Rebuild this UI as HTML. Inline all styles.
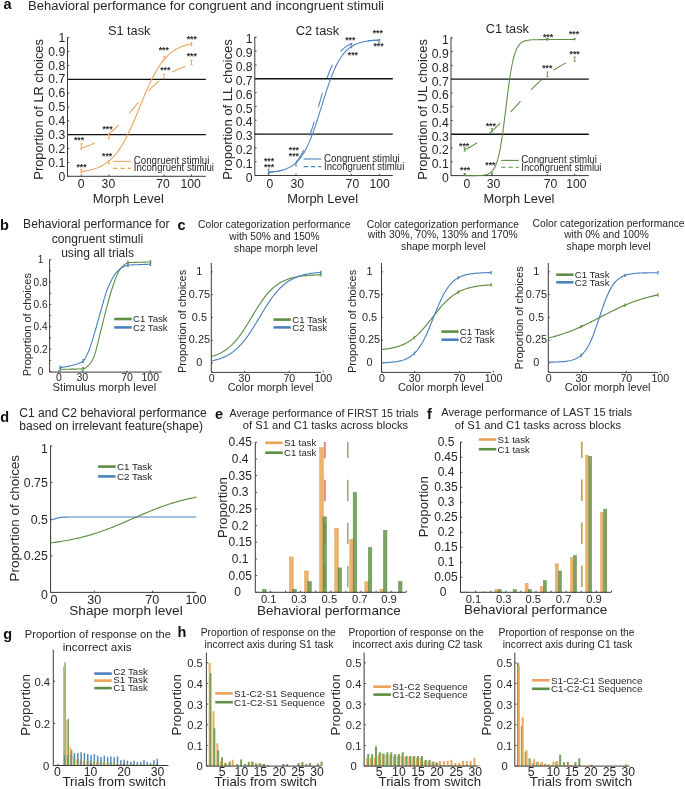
<!DOCTYPE html>
<html><head><meta charset="utf-8"><style>
html,body{margin:0;padding:0;background:#fff;}
svg{display:block;font-family:"Liberation Sans", sans-serif;will-change:transform;}
</style></head><body>
<svg width="685" height="789" viewBox="0 0 685 789" font-family='"Liberation Sans", sans-serif' fill="#262626">
<rect x="0" y="0" width="685" height="789" fill="#fff"/>
<text x="3.40" y="9.00" font-size="14.5" font-weight="bold" fill="#111">a</text>
<text x="28.00" y="9.60" font-size="12.5" textLength="356.0" lengthAdjust="spacingAndGlyphs">Behavioral performance for congruent and incongruent stimuli</text>
<text x="107.90" y="35.00" font-size="12.5" textLength="42.5" lengthAdjust="spacingAndGlyphs">S1 task</text>
<line x1="67.50" y1="79.28" x2="205.80" y2="79.28" stroke="#111" stroke-width="1.3"/>
<line x1="67.50" y1="134.72" x2="205.80" y2="134.72" stroke="#111" stroke-width="1.3"/>
<line x1="67.50" y1="37.20" x2="67.50" y2="176.30" stroke="#3a3a3a" stroke-width="1"/>
<line x1="67.50" y1="176.30" x2="205.80" y2="176.30" stroke="#3a3a3a" stroke-width="1"/>
<line x1="67.50" y1="176.30" x2="69.30" y2="176.30" stroke="#3a3a3a" stroke-width="0.9"/>
<text x="65.30" y="180.50" font-size="12.2" text-anchor="end">0</text>
<line x1="67.50" y1="162.44" x2="69.30" y2="162.44" stroke="#3a3a3a" stroke-width="0.9"/>
<text x="65.30" y="166.64" font-size="12.2" text-anchor="end">0.1</text>
<line x1="67.50" y1="148.58" x2="69.30" y2="148.58" stroke="#3a3a3a" stroke-width="0.9"/>
<text x="65.30" y="152.78" font-size="12.2" text-anchor="end">0.2</text>
<line x1="67.50" y1="134.72" x2="69.30" y2="134.72" stroke="#3a3a3a" stroke-width="0.9"/>
<text x="65.30" y="138.92" font-size="12.2" text-anchor="end">0.3</text>
<line x1="67.50" y1="120.86" x2="69.30" y2="120.86" stroke="#3a3a3a" stroke-width="0.9"/>
<text x="65.30" y="125.06" font-size="12.2" text-anchor="end">0.4</text>
<line x1="67.50" y1="107.00" x2="69.30" y2="107.00" stroke="#3a3a3a" stroke-width="0.9"/>
<text x="65.30" y="111.20" font-size="12.2" text-anchor="end">0.5</text>
<line x1="67.50" y1="93.14" x2="69.30" y2="93.14" stroke="#3a3a3a" stroke-width="0.9"/>
<text x="65.30" y="97.34" font-size="12.2" text-anchor="end">0.6</text>
<line x1="67.50" y1="79.28" x2="69.30" y2="79.28" stroke="#3a3a3a" stroke-width="0.9"/>
<text x="65.30" y="83.48" font-size="12.2" text-anchor="end">0.7</text>
<line x1="67.50" y1="65.42" x2="69.30" y2="65.42" stroke="#3a3a3a" stroke-width="0.9"/>
<text x="65.30" y="69.62" font-size="12.2" text-anchor="end">0.8</text>
<line x1="67.50" y1="51.56" x2="69.30" y2="51.56" stroke="#3a3a3a" stroke-width="0.9"/>
<text x="65.30" y="55.76" font-size="12.2" text-anchor="end">0.9</text>
<line x1="67.50" y1="37.70" x2="69.30" y2="37.70" stroke="#3a3a3a" stroke-width="0.9"/>
<text x="65.30" y="41.90" font-size="12.2" text-anchor="end">1</text>
<line x1="81.30" y1="176.30" x2="81.30" y2="174.50" stroke="#3a3a3a" stroke-width="0.9"/>
<line x1="108.90" y1="176.30" x2="108.90" y2="174.50" stroke="#3a3a3a" stroke-width="0.9"/>
<line x1="164.10" y1="176.30" x2="164.10" y2="174.50" stroke="#3a3a3a" stroke-width="0.9"/>
<line x1="191.50" y1="176.30" x2="191.50" y2="174.50" stroke="#3a3a3a" stroke-width="0.9"/>
<text x="81.20" y="188.20" font-size="12.2" text-anchor="middle">0</text>
<text x="108.40" y="188.20" font-size="12.2" text-anchor="middle">30</text>
<text x="163.00" y="188.20" font-size="12.2" text-anchor="middle">70</text>
<text x="190.60" y="188.20" font-size="12.2" text-anchor="middle">100</text>
<text x="128.30" y="202.90" font-size="12.8" text-anchor="middle" textLength="70.9" lengthAdjust="spacingAndGlyphs">Morph Level</text>
<text x="43.10" y="109.40" font-size="12.8" text-anchor="middle" textLength="140.5" lengthAdjust="spacingAndGlyphs" transform="rotate(-90 43.10 109.40)">Proportion of LR choices</text>
<polyline points="81.30,171.55 82.68,171.37 84.05,171.17 85.43,170.95 86.81,170.71 88.19,170.44 89.56,170.15 90.94,169.82 92.32,169.46 93.70,169.06 95.08,168.63 96.45,168.15 97.83,167.62 99.21,167.04 100.58,166.41 101.96,165.71 103.34,164.95 104.72,164.12 106.09,163.21 107.47,162.21 108.85,161.13 110.23,159.96 111.60,158.68 112.98,157.30 114.36,155.81 115.74,154.20 117.12,152.46 118.49,150.61 119.87,148.62 121.25,146.50 122.62,144.25 124.00,141.86 125.38,139.35 126.76,136.70 128.13,133.93 129.51,131.04 130.89,128.05 132.27,124.95 133.65,121.77 135.02,118.52 136.40,115.21 137.78,111.86 139.16,108.48 140.53,105.09 141.91,101.72 143.29,98.37 144.66,95.07 146.04,91.83 147.42,88.67 148.80,85.59 150.18,82.62 151.55,79.76 152.93,77.01 154.31,74.39 155.69,71.90 157.06,69.55 158.44,67.32 159.82,65.23 161.19,63.27 162.57,61.44 163.95,59.73 165.33,58.15 166.70,56.68 168.08,55.32 169.46,54.07 170.84,52.91 172.21,51.85 173.59,50.87 174.97,49.98 176.35,49.16 177.72,48.41 179.10,47.73 180.48,47.11 181.86,46.54 183.24,46.03 184.61,45.56 185.99,45.13 187.37,44.74 188.75,44.39 190.12,44.07 191.50,43.78" fill="none" stroke="#EBA15A" stroke-width="1.05" stroke-linejoin="round"/>
<polyline points="81.30,147.93 82.68,147.54 84.05,147.13 85.43,146.69 86.81,146.23 88.19,145.74 89.56,145.21 90.94,144.66 92.32,144.07 93.70,143.45 95.08,142.79 96.45,142.10 97.83,141.37 99.21,140.60 100.58,139.78 101.96,138.93 103.34,138.03 104.72,137.09 106.09,136.11 107.47,135.08 108.85,134.00 110.23,132.88 111.60,131.72 112.98,130.51 114.36,129.25 115.74,127.96 117.12,126.62 118.49,125.24 119.87,123.82 121.25,122.36 122.62,120.87 124.00,119.34 125.38,117.79 126.76,116.21 128.13,114.61 129.51,112.99 130.89,111.35 132.27,109.71 133.65,108.05 135.02,106.39 136.40,104.74 137.78,103.09 139.16,101.45 140.53,99.82 141.91,98.21 143.29,96.62 144.66,95.06 146.04,93.53 147.42,92.02 148.80,90.55 150.18,89.11 151.55,87.72 152.93,86.36 154.31,85.05 155.69,83.78 157.06,82.55 158.44,81.37 159.82,80.23 161.19,79.14 162.57,78.09 163.95,77.09 165.33,76.13 166.70,75.22 168.08,74.35 169.46,73.52 170.84,72.73 172.21,71.99 173.59,71.28 174.97,70.61 176.35,69.97 177.72,69.37 179.10,68.80 180.48,68.27 181.86,67.76 183.24,67.29 184.61,66.84 185.99,66.42 187.37,66.03 188.75,65.65 190.12,65.31 191.50,64.98" fill="none" stroke="#EBA15A" stroke-width="1.05" stroke-linejoin="round" stroke-dasharray="14.5 15.5" stroke-dashoffset="0"/>
<line x1="81.30" y1="169.51" x2="81.30" y2="172.84" stroke="#EBA15A" stroke-width="0.9"/>
<line x1="80.20" y1="169.51" x2="82.40" y2="169.51" stroke="#EBA15A" stroke-width="0.9"/>
<line x1="80.20" y1="172.84" x2="82.40" y2="172.84" stroke="#EBA15A" stroke-width="0.9"/>
<line x1="108.90" y1="160.36" x2="108.90" y2="163.69" stroke="#EBA15A" stroke-width="0.9"/>
<line x1="107.80" y1="160.36" x2="110.00" y2="160.36" stroke="#EBA15A" stroke-width="0.9"/>
<line x1="107.80" y1="163.69" x2="110.00" y2="163.69" stroke="#EBA15A" stroke-width="0.9"/>
<line x1="164.10" y1="56.41" x2="164.10" y2="59.74" stroke="#EBA15A" stroke-width="0.9"/>
<line x1="163.00" y1="56.41" x2="165.20" y2="56.41" stroke="#EBA15A" stroke-width="0.9"/>
<line x1="163.00" y1="59.74" x2="165.20" y2="59.74" stroke="#EBA15A" stroke-width="0.9"/>
<line x1="191.50" y1="42.83" x2="191.50" y2="45.60" stroke="#EBA15A" stroke-width="0.9"/>
<line x1="190.40" y1="42.83" x2="192.60" y2="42.83" stroke="#EBA15A" stroke-width="0.9"/>
<line x1="190.40" y1="45.60" x2="192.60" y2="45.60" stroke="#EBA15A" stroke-width="0.9"/>
<line x1="81.30" y1="143.73" x2="81.30" y2="149.27" stroke="#EBA15A" stroke-width="0.9"/>
<line x1="80.20" y1="143.73" x2="82.40" y2="143.73" stroke="#EBA15A" stroke-width="0.9"/>
<line x1="80.20" y1="149.27" x2="82.40" y2="149.27" stroke="#EBA15A" stroke-width="0.9"/>
<line x1="108.90" y1="133.75" x2="108.90" y2="138.46" stroke="#EBA15A" stroke-width="0.9"/>
<line x1="107.80" y1="133.75" x2="110.00" y2="133.75" stroke="#EBA15A" stroke-width="0.9"/>
<line x1="107.80" y1="138.46" x2="110.00" y2="138.46" stroke="#EBA15A" stroke-width="0.9"/>
<line x1="164.10" y1="74.43" x2="164.10" y2="78.59" stroke="#EBA15A" stroke-width="0.9"/>
<line x1="163.00" y1="74.43" x2="165.20" y2="74.43" stroke="#EBA15A" stroke-width="0.9"/>
<line x1="163.00" y1="78.59" x2="165.20" y2="78.59" stroke="#EBA15A" stroke-width="0.9"/>
<line x1="191.50" y1="60.57" x2="191.50" y2="64.73" stroke="#EBA15A" stroke-width="0.9"/>
<line x1="190.40" y1="60.57" x2="192.60" y2="60.57" stroke="#EBA15A" stroke-width="0.9"/>
<line x1="190.40" y1="64.73" x2="192.60" y2="64.73" stroke="#EBA15A" stroke-width="0.9"/>
<text x="81.50" y="169.90" font-size="8.7" text-anchor="middle" font-weight="bold" fill="#2a2a2a">***</text>
<text x="79.00" y="142.80" font-size="8.7" text-anchor="middle" font-weight="bold" fill="#2a2a2a">***</text>
<text x="107.20" y="158.90" font-size="8.7" text-anchor="middle" font-weight="bold" fill="#2a2a2a">***</text>
<text x="107.50" y="131.60" font-size="8.7" text-anchor="middle" font-weight="bold" fill="#2a2a2a">***</text>
<text x="163.80" y="53.20" font-size="8.7" text-anchor="middle" font-weight="bold" fill="#2a2a2a">***</text>
<text x="165.30" y="72.60" font-size="8.7" text-anchor="middle" font-weight="bold" fill="#2a2a2a">***</text>
<text x="191.80" y="41.60" font-size="8.7" text-anchor="middle" font-weight="bold" fill="#2a2a2a">***</text>
<text x="191.80" y="59.30" font-size="8.7" text-anchor="middle" font-weight="bold" fill="#2a2a2a">***</text>
<line x1="113.20" y1="161.40" x2="130.90" y2="161.40" stroke="#EBA15A" stroke-width="1.1"/>
<line x1="113.20" y1="168.40" x2="130.90" y2="168.40" stroke="#EBA15A" stroke-width="1.1" stroke-dasharray="4.3 3"/>
<text x="133.80" y="164.00" font-size="10.3" textLength="75.6" lengthAdjust="spacingAndGlyphs">Congruent stimlui</text>
<text x="133.80" y="170.50" font-size="10.3" textLength="80.2" lengthAdjust="spacingAndGlyphs">Incongruent stimlui</text>
<text x="295.70" y="34.60" font-size="12.5" textLength="43.4" lengthAdjust="spacingAndGlyphs">C2 task</text>
<line x1="254.80" y1="78.76" x2="392.80" y2="78.76" stroke="#111" stroke-width="1.3"/>
<line x1="254.80" y1="134.04" x2="392.80" y2="134.04" stroke="#111" stroke-width="1.3"/>
<line x1="254.80" y1="36.80" x2="254.80" y2="175.50" stroke="#3a3a3a" stroke-width="1"/>
<line x1="254.80" y1="175.50" x2="392.80" y2="175.50" stroke="#3a3a3a" stroke-width="1"/>
<line x1="254.80" y1="175.50" x2="256.60" y2="175.50" stroke="#3a3a3a" stroke-width="0.9"/>
<text x="252.60" y="181.65" font-size="12.2" text-anchor="end">0</text>
<line x1="254.80" y1="161.68" x2="256.60" y2="161.68" stroke="#3a3a3a" stroke-width="0.9"/>
<text x="252.60" y="167.83" font-size="12.2" text-anchor="end">0.1</text>
<line x1="254.80" y1="147.86" x2="256.60" y2="147.86" stroke="#3a3a3a" stroke-width="0.9"/>
<text x="252.60" y="154.01" font-size="12.2" text-anchor="end">0.2</text>
<line x1="254.80" y1="134.04" x2="256.60" y2="134.04" stroke="#3a3a3a" stroke-width="0.9"/>
<text x="252.60" y="140.19" font-size="12.2" text-anchor="end">0.3</text>
<line x1="254.80" y1="120.22" x2="256.60" y2="120.22" stroke="#3a3a3a" stroke-width="0.9"/>
<text x="252.60" y="126.37" font-size="12.2" text-anchor="end">0.4</text>
<line x1="254.80" y1="106.40" x2="256.60" y2="106.40" stroke="#3a3a3a" stroke-width="0.9"/>
<text x="252.60" y="112.55" font-size="12.2" text-anchor="end">0.5</text>
<line x1="254.80" y1="92.58" x2="256.60" y2="92.58" stroke="#3a3a3a" stroke-width="0.9"/>
<text x="252.60" y="98.73" font-size="12.2" text-anchor="end">0.6</text>
<line x1="254.80" y1="78.76" x2="256.60" y2="78.76" stroke="#3a3a3a" stroke-width="0.9"/>
<text x="252.60" y="84.91" font-size="12.2" text-anchor="end">0.7</text>
<line x1="254.80" y1="64.94" x2="256.60" y2="64.94" stroke="#3a3a3a" stroke-width="0.9"/>
<text x="252.60" y="71.09" font-size="12.2" text-anchor="end">0.8</text>
<line x1="254.80" y1="51.12" x2="256.60" y2="51.12" stroke="#3a3a3a" stroke-width="0.9"/>
<text x="252.60" y="57.27" font-size="12.2" text-anchor="end">0.9</text>
<line x1="254.80" y1="37.30" x2="256.60" y2="37.30" stroke="#3a3a3a" stroke-width="0.9"/>
<text x="252.60" y="43.45" font-size="12.2" text-anchor="end">1</text>
<line x1="268.60" y1="175.50" x2="268.60" y2="173.70" stroke="#3a3a3a" stroke-width="0.9"/>
<line x1="296.00" y1="175.50" x2="296.00" y2="173.70" stroke="#3a3a3a" stroke-width="0.9"/>
<line x1="351.20" y1="175.50" x2="351.20" y2="173.70" stroke="#3a3a3a" stroke-width="0.9"/>
<line x1="379.20" y1="175.50" x2="379.20" y2="173.70" stroke="#3a3a3a" stroke-width="0.9"/>
<text x="269.80" y="188.20" font-size="12.2" text-anchor="middle">0</text>
<text x="297.20" y="188.20" font-size="12.2" text-anchor="middle">30</text>
<text x="352.40" y="188.20" font-size="12.2" text-anchor="middle">70</text>
<text x="379.60" y="188.20" font-size="12.2" text-anchor="middle">100</text>
<text x="322.70" y="202.90" font-size="12.8" text-anchor="middle" textLength="70.9" lengthAdjust="spacingAndGlyphs">Morph Level</text>
<text x="231.80" y="109.40" font-size="12.8" text-anchor="middle" textLength="140.5" lengthAdjust="spacingAndGlyphs" transform="rotate(-90 231.80 109.40)">Proportion of LL choices</text>
<polyline points="268.60,172.22 269.98,172.11 271.37,171.98 272.75,171.84 274.13,171.67 275.51,171.49 276.90,171.28 278.28,171.03 279.66,170.76 281.04,170.44 282.43,170.09 283.81,169.68 285.19,169.22 286.57,168.69 287.96,168.10 289.34,167.43 290.72,166.67 292.10,165.81 293.49,164.84 294.87,163.75 296.25,162.52 297.63,161.15 299.01,159.62 300.40,157.92 301.78,156.03 303.16,153.94 304.55,151.63 305.93,149.11 307.31,146.37 308.69,143.39 310.07,140.18 311.46,136.74 312.84,133.09 314.22,129.24 315.61,125.20 316.99,121.01 318.37,116.69 319.75,112.28 321.13,107.82 322.52,103.34 323.90,98.89 325.28,94.51 326.67,90.22 328.05,86.08 329.43,82.10 330.81,78.31 332.19,74.73 333.58,71.36 334.96,68.23 336.34,65.33 337.73,62.66 339.11,60.21 340.49,57.98 341.87,55.95 343.25,54.13 344.64,52.48 346.02,51.00 347.40,49.68 348.78,48.50 350.17,47.45 351.55,46.52 352.93,45.69 354.31,44.96 355.70,44.32 357.08,43.75 358.46,43.24 359.85,42.80 361.23,42.41 362.61,42.07 363.99,41.77 365.38,41.50 366.76,41.27 368.14,41.07 369.52,40.89 370.90,40.73 372.29,40.60 373.67,40.48 375.05,40.37 376.44,40.28 377.82,40.20 379.20,40.13" fill="none" stroke="#4A82BE" stroke-width="1.05" stroke-linejoin="round"/>
<polyline points="268.60,172.22 269.98,172.12 271.37,172.00 272.75,171.87 274.13,171.71 275.51,171.53 276.90,171.32 278.28,171.08 279.66,170.80 281.04,170.48 282.43,170.11 283.81,169.68 285.19,169.19 286.57,168.63 287.96,167.98 289.34,167.24 290.72,166.39 292.10,165.42 293.49,164.31 294.87,163.05 296.25,161.63 297.63,160.01 299.01,158.20 300.40,156.16 301.78,153.89 303.16,151.36 304.55,148.57 305.93,145.51 307.31,142.17 308.69,138.55 310.07,134.67 311.46,130.53 312.84,126.17 314.22,121.62 315.61,116.90 316.99,112.08 318.37,107.19 319.75,102.30 321.13,97.45 322.52,92.69 323.90,88.08 325.28,83.65 326.67,79.44 328.05,75.47 329.43,71.76 330.81,68.33 332.19,65.17 333.58,62.29 334.96,59.68 336.34,57.33 337.73,55.21 339.11,53.33 340.49,51.65 341.87,50.16 343.25,48.85 344.64,47.70 346.02,46.68 347.40,45.79 348.78,45.02 350.17,44.34 351.55,43.75 352.93,43.23 354.31,42.79 355.70,42.40 357.08,42.06 358.46,41.77 359.85,41.52 361.23,41.30 362.61,41.11 363.99,40.94 365.38,40.80 366.76,40.68 368.14,40.57 369.52,40.48 370.90,40.40 372.29,40.33 373.67,40.27 375.05,40.22 376.44,40.18 377.82,40.14 379.20,40.11" fill="none" stroke="#4A82BE" stroke-width="1.05" stroke-linejoin="round" stroke-dasharray="14.5 15.5" stroke-dashoffset="0"/>
<line x1="268.60" y1="169.28" x2="268.60" y2="173.43" stroke="#4A82BE" stroke-width="0.9"/>
<line x1="267.50" y1="169.28" x2="269.70" y2="169.28" stroke="#4A82BE" stroke-width="0.9"/>
<line x1="267.50" y1="173.43" x2="269.70" y2="173.43" stroke="#4A82BE" stroke-width="0.9"/>
<line x1="296.00" y1="163.06" x2="296.00" y2="165.83" stroke="#4A82BE" stroke-width="0.9"/>
<line x1="294.90" y1="163.06" x2="297.10" y2="163.06" stroke="#4A82BE" stroke-width="0.9"/>
<line x1="294.90" y1="165.83" x2="297.10" y2="165.83" stroke="#4A82BE" stroke-width="0.9"/>
<line x1="351.20" y1="43.52" x2="351.20" y2="47.67" stroke="#4A82BE" stroke-width="0.9"/>
<line x1="350.10" y1="43.52" x2="352.30" y2="43.52" stroke="#4A82BE" stroke-width="0.9"/>
<line x1="350.10" y1="47.67" x2="352.30" y2="47.67" stroke="#4A82BE" stroke-width="0.9"/>
<line x1="379.20" y1="39.37" x2="379.20" y2="42.14" stroke="#4A82BE" stroke-width="0.9"/>
<line x1="378.10" y1="39.37" x2="380.30" y2="39.37" stroke="#4A82BE" stroke-width="0.9"/>
<line x1="378.10" y1="42.14" x2="380.30" y2="42.14" stroke="#4A82BE" stroke-width="0.9"/>
<text x="269.00" y="164.20" font-size="8.7" text-anchor="middle" font-weight="bold" fill="#2a2a2a">***</text>
<text x="269.00" y="170.40" font-size="8.7" text-anchor="middle" font-weight="bold" fill="#2a2a2a">***</text>
<text x="293.90" y="153.30" font-size="8.7" text-anchor="middle" font-weight="bold" fill="#2a2a2a">***</text>
<text x="293.90" y="159.10" font-size="8.7" text-anchor="middle" font-weight="bold" fill="#2a2a2a">***</text>
<text x="350.30" y="42.80" font-size="8.7" text-anchor="middle" font-weight="bold" fill="#2a2a2a">***</text>
<text x="352.90" y="58.30" font-size="8.7" text-anchor="middle" font-weight="bold" fill="#2a2a2a">***</text>
<text x="377.80" y="36.20" font-size="8.7" text-anchor="middle" font-weight="bold" fill="#2a2a2a">***</text>
<text x="378.50" y="48.60" font-size="8.7" text-anchor="middle" font-weight="bold" fill="#2a2a2a">***</text>
<line x1="303.60" y1="159.00" x2="321.30" y2="159.00" stroke="#4A82BE" stroke-width="1.1"/>
<line x1="303.60" y1="166.60" x2="321.30" y2="166.60" stroke="#4A82BE" stroke-width="1.1" stroke-dasharray="4.3 3"/>
<text x="324.10" y="161.90" font-size="10.3" textLength="75.6" lengthAdjust="spacingAndGlyphs">Congruent stimlui</text>
<text x="324.10" y="169.60" font-size="10.3" textLength="80.2" lengthAdjust="spacingAndGlyphs">Incongruent stimlui</text>
<text x="485.70" y="33.30" font-size="12.5" textLength="43.2" lengthAdjust="spacingAndGlyphs">C1 task</text>
<line x1="451.00" y1="79.14" x2="588.80" y2="79.14" stroke="#111" stroke-width="1.3"/>
<line x1="451.00" y1="134.26" x2="588.80" y2="134.26" stroke="#111" stroke-width="1.3"/>
<line x1="451.00" y1="37.30" x2="451.00" y2="175.60" stroke="#3a3a3a" stroke-width="1"/>
<line x1="451.00" y1="175.60" x2="588.80" y2="175.60" stroke="#3a3a3a" stroke-width="1"/>
<line x1="451.00" y1="175.60" x2="452.80" y2="175.60" stroke="#3a3a3a" stroke-width="0.9"/>
<text x="448.80" y="182.05" font-size="12.2" text-anchor="end">0</text>
<line x1="451.00" y1="161.82" x2="452.80" y2="161.82" stroke="#3a3a3a" stroke-width="0.9"/>
<text x="448.80" y="168.27" font-size="12.2" text-anchor="end">0.1</text>
<line x1="451.00" y1="148.04" x2="452.80" y2="148.04" stroke="#3a3a3a" stroke-width="0.9"/>
<text x="448.80" y="154.49" font-size="12.2" text-anchor="end">0.2</text>
<line x1="451.00" y1="134.26" x2="452.80" y2="134.26" stroke="#3a3a3a" stroke-width="0.9"/>
<text x="448.80" y="140.71" font-size="12.2" text-anchor="end">0.3</text>
<line x1="451.00" y1="120.48" x2="452.80" y2="120.48" stroke="#3a3a3a" stroke-width="0.9"/>
<text x="448.80" y="126.93" font-size="12.2" text-anchor="end">0.4</text>
<line x1="451.00" y1="106.70" x2="452.80" y2="106.70" stroke="#3a3a3a" stroke-width="0.9"/>
<text x="448.80" y="113.15" font-size="12.2" text-anchor="end">0.5</text>
<line x1="451.00" y1="92.92" x2="452.80" y2="92.92" stroke="#3a3a3a" stroke-width="0.9"/>
<text x="448.80" y="99.37" font-size="12.2" text-anchor="end">0.6</text>
<line x1="451.00" y1="79.14" x2="452.80" y2="79.14" stroke="#3a3a3a" stroke-width="0.9"/>
<text x="448.80" y="85.59" font-size="12.2" text-anchor="end">0.7</text>
<line x1="451.00" y1="65.36" x2="452.80" y2="65.36" stroke="#3a3a3a" stroke-width="0.9"/>
<text x="448.80" y="71.81" font-size="12.2" text-anchor="end">0.8</text>
<line x1="451.00" y1="51.58" x2="452.80" y2="51.58" stroke="#3a3a3a" stroke-width="0.9"/>
<text x="448.80" y="58.03" font-size="12.2" text-anchor="end">0.9</text>
<line x1="451.00" y1="37.80" x2="452.80" y2="37.80" stroke="#3a3a3a" stroke-width="0.9"/>
<text x="448.80" y="44.25" font-size="12.2" text-anchor="end">1</text>
<line x1="464.70" y1="175.60" x2="464.70" y2="173.80" stroke="#3a3a3a" stroke-width="0.9"/>
<line x1="491.90" y1="175.60" x2="491.90" y2="173.80" stroke="#3a3a3a" stroke-width="0.9"/>
<line x1="547.30" y1="175.60" x2="547.30" y2="173.80" stroke="#3a3a3a" stroke-width="0.9"/>
<line x1="574.70" y1="175.60" x2="574.70" y2="173.80" stroke="#3a3a3a" stroke-width="0.9"/>
<text x="466.80" y="188.20" font-size="12.2" text-anchor="middle">0</text>
<text x="493.50" y="188.20" font-size="12.2" text-anchor="middle">30</text>
<text x="550.60" y="188.20" font-size="12.2" text-anchor="middle">70</text>
<text x="576.30" y="188.20" font-size="12.2" text-anchor="middle">100</text>
<text x="519.00" y="202.90" font-size="12.8" text-anchor="middle" textLength="70.9" lengthAdjust="spacingAndGlyphs">Morph Level</text>
<text x="426.80" y="109.40" font-size="12.8" text-anchor="middle" textLength="140.5" lengthAdjust="spacingAndGlyphs" transform="rotate(-90 426.80 109.40)">Proportion of UL choices</text>
<polyline points="464.70,175.72 466.07,175.72 467.45,175.71 468.82,175.71 470.20,175.70 471.57,175.69 472.95,175.68 474.32,175.66 475.70,175.64 477.07,175.60 478.45,175.56 479.82,175.49 481.20,175.40 482.57,175.27 483.95,175.09 485.32,174.84 486.70,174.49 488.07,174.00 489.45,173.33 490.82,172.40 492.20,171.12 493.57,169.36 494.95,166.99 496.32,163.82 497.70,159.64 499.07,154.24 500.45,147.45 501.82,139.21 503.20,129.59 504.57,118.88 505.95,107.57 507.32,96.27 508.70,85.58 510.07,75.98 511.45,67.75 512.83,60.99 514.20,55.61 515.58,51.44 516.95,48.28 518.33,45.92 519.70,44.18 521.08,42.90 522.45,41.98 523.83,41.31 525.20,40.82 526.58,40.47 527.95,40.22 529.33,40.04 530.70,39.92 532.08,39.82 533.45,39.76 534.83,39.71 536.20,39.68 537.58,39.65 538.95,39.63 540.33,39.62 541.70,39.61 543.08,39.61 544.45,39.60 545.83,39.60 547.20,39.60 548.58,39.60 549.95,39.59 551.33,39.59 552.70,39.59 554.08,39.59 555.45,39.59 556.83,39.59 558.20,39.59 559.58,39.59 560.95,39.59 562.33,39.59 563.70,39.59 565.08,39.59 566.45,39.59 567.83,39.59 569.20,39.59 570.58,39.59 571.95,39.59 573.33,39.59 574.70,39.59" fill="none" stroke="#5D8E43" stroke-width="1.05" stroke-linejoin="round"/>
<polyline points="464.70,149.79 466.07,149.12 467.45,148.42 468.82,147.70 470.20,146.95 471.57,146.17 472.95,145.36 474.32,144.52 475.70,143.65 477.07,142.76 478.45,141.83 479.82,140.87 481.20,139.88 482.57,138.86 483.95,137.80 485.32,136.72 486.70,135.60 488.07,134.46 489.45,133.29 490.82,132.08 492.20,130.85 493.57,129.59 494.95,128.30 496.32,126.98 497.70,125.64 499.07,124.28 500.45,122.89 501.82,121.48 503.20,120.05 504.57,118.60 505.95,117.14 507.32,115.66 508.70,114.17 510.07,112.66 511.45,111.15 512.83,109.63 514.20,108.11 515.58,106.58 516.95,105.05 518.33,103.53 519.70,102.00 521.08,100.48 522.45,98.97 523.83,97.47 525.20,95.98 526.58,94.51 527.95,93.05 529.33,91.60 530.70,90.18 532.08,88.78 533.45,87.39 534.83,86.03 536.20,84.70 537.58,83.39 538.95,82.11 540.33,80.85 541.70,79.63 543.08,78.43 544.45,77.26 545.83,76.12 547.20,75.02 548.58,73.94 549.95,72.89 551.33,71.88 552.70,70.90 554.08,69.94 555.45,69.02 556.83,68.13 558.20,67.27 559.58,66.44 560.95,65.64 562.33,64.86 563.70,64.12 565.08,63.40 566.45,62.71 567.83,62.05 569.20,61.41 570.58,60.80 571.95,60.22 573.33,59.65 574.70,59.11" fill="none" stroke="#5D8E43" stroke-width="1.05" stroke-linejoin="round" stroke-dasharray="14.5 15.5" stroke-dashoffset="0"/>
<line x1="464.70" y1="173.53" x2="464.70" y2="174.91" stroke="#5D8E43" stroke-width="0.9"/>
<line x1="463.60" y1="173.53" x2="465.80" y2="173.53" stroke="#5D8E43" stroke-width="0.9"/>
<line x1="463.60" y1="174.91" x2="465.80" y2="174.91" stroke="#5D8E43" stroke-width="0.9"/>
<line x1="491.90" y1="172.84" x2="491.90" y2="174.22" stroke="#5D8E43" stroke-width="0.9"/>
<line x1="490.80" y1="172.84" x2="493.00" y2="172.84" stroke="#5D8E43" stroke-width="0.9"/>
<line x1="490.80" y1="174.22" x2="493.00" y2="174.22" stroke="#5D8E43" stroke-width="0.9"/>
<line x1="547.30" y1="38.49" x2="547.30" y2="39.87" stroke="#5D8E43" stroke-width="0.9"/>
<line x1="546.20" y1="38.49" x2="548.40" y2="38.49" stroke="#5D8E43" stroke-width="0.9"/>
<line x1="546.20" y1="39.87" x2="548.40" y2="39.87" stroke="#5D8E43" stroke-width="0.9"/>
<line x1="574.70" y1="38.63" x2="574.70" y2="39.73" stroke="#5D8E43" stroke-width="0.9"/>
<line x1="573.60" y1="38.63" x2="575.80" y2="38.63" stroke="#5D8E43" stroke-width="0.9"/>
<line x1="573.60" y1="39.73" x2="575.80" y2="39.73" stroke="#5D8E43" stroke-width="0.9"/>
<line x1="464.70" y1="147.76" x2="464.70" y2="151.07" stroke="#5D8E43" stroke-width="0.9"/>
<line x1="463.60" y1="147.76" x2="465.80" y2="147.76" stroke="#5D8E43" stroke-width="0.9"/>
<line x1="463.60" y1="151.07" x2="465.80" y2="151.07" stroke="#5D8E43" stroke-width="0.9"/>
<line x1="491.90" y1="128.47" x2="491.90" y2="131.78" stroke="#5D8E43" stroke-width="0.9"/>
<line x1="490.80" y1="128.47" x2="493.00" y2="128.47" stroke="#5D8E43" stroke-width="0.9"/>
<line x1="490.80" y1="131.78" x2="493.00" y2="131.78" stroke="#5D8E43" stroke-width="0.9"/>
<line x1="547.30" y1="71.97" x2="547.30" y2="76.66" stroke="#5D8E43" stroke-width="0.9"/>
<line x1="546.20" y1="71.97" x2="548.40" y2="71.97" stroke="#5D8E43" stroke-width="0.9"/>
<line x1="546.20" y1="76.66" x2="548.40" y2="76.66" stroke="#5D8E43" stroke-width="0.9"/>
<line x1="574.70" y1="57.09" x2="574.70" y2="61.23" stroke="#5D8E43" stroke-width="0.9"/>
<line x1="573.60" y1="57.09" x2="575.80" y2="57.09" stroke="#5D8E43" stroke-width="0.9"/>
<line x1="573.60" y1="61.23" x2="575.80" y2="61.23" stroke="#5D8E43" stroke-width="0.9"/>
<text x="465.20" y="173.20" font-size="8.7" text-anchor="middle" font-weight="bold" fill="#2a2a2a">***</text>
<text x="464.10" y="148.70" font-size="8.7" text-anchor="middle" font-weight="bold" fill="#2a2a2a">***</text>
<text x="490.40" y="168.40" font-size="8.7" text-anchor="middle" font-weight="bold" fill="#2a2a2a">***</text>
<text x="490.80" y="128.50" font-size="8.7" text-anchor="middle" font-weight="bold" fill="#2a2a2a">***</text>
<text x="548.00" y="40.30" font-size="8.7" text-anchor="middle" font-weight="bold" fill="#2a2a2a">***</text>
<text x="547.30" y="70.90" font-size="8.7" text-anchor="middle" font-weight="bold" fill="#2a2a2a">***</text>
<text x="574.00" y="37.40" font-size="8.7" text-anchor="middle" font-weight="bold" fill="#2a2a2a">***</text>
<text x="574.70" y="56.70" font-size="8.7" text-anchor="middle" font-weight="bold" fill="#2a2a2a">***</text>
<line x1="501.20" y1="160.40" x2="518.90" y2="160.40" stroke="#5D8E43" stroke-width="1.1"/>
<line x1="501.20" y1="167.30" x2="518.90" y2="167.30" stroke="#5D8E43" stroke-width="1.1" stroke-dasharray="4.3 3"/>
<text x="521.30" y="162.90" font-size="10.3" textLength="75.6" lengthAdjust="spacingAndGlyphs">Congruent stimlui</text>
<text x="521.30" y="170.90" font-size="10.3" textLength="80.2" lengthAdjust="spacingAndGlyphs">Incongruent stimlui</text>
<text x="0.00" y="229.90" font-size="14.5" font-weight="bold" fill="#111">b</text>
<text x="96.30" y="228.10" font-size="12" text-anchor="middle" textLength="146.4" lengthAdjust="spacingAndGlyphs">Behavioral performance for</text>
<text x="97.50" y="242.60" font-size="12" text-anchor="middle" textLength="91.4" lengthAdjust="spacingAndGlyphs">congruent stimuli</text>
<text x="97.60" y="256.50" font-size="12" text-anchor="middle" textLength="72.8" lengthAdjust="spacingAndGlyphs">using all trials</text>
<line x1="49.60" y1="259.40" x2="49.60" y2="372.10" stroke="#3a3a3a" stroke-width="1"/>
<line x1="49.60" y1="372.10" x2="161.80" y2="372.10" stroke="#3a3a3a" stroke-width="1"/>
<line x1="49.60" y1="371.50" x2="51.20" y2="371.50" stroke="#3a3a3a" stroke-width="0.9"/>
<text x="40.50" y="375.00" font-size="10.1" text-anchor="middle">0</text>
<line x1="49.60" y1="360.32" x2="51.20" y2="360.32" stroke="#3a3a3a" stroke-width="0.9"/>
<line x1="49.60" y1="349.14" x2="51.20" y2="349.14" stroke="#3a3a3a" stroke-width="0.9"/>
<text x="40.50" y="352.64" font-size="10.1" text-anchor="middle">0.2</text>
<line x1="49.60" y1="337.96" x2="51.20" y2="337.96" stroke="#3a3a3a" stroke-width="0.9"/>
<line x1="49.60" y1="326.78" x2="51.20" y2="326.78" stroke="#3a3a3a" stroke-width="0.9"/>
<text x="40.50" y="330.28" font-size="10.1" text-anchor="middle">0.4</text>
<line x1="49.60" y1="315.60" x2="51.20" y2="315.60" stroke="#3a3a3a" stroke-width="0.9"/>
<line x1="49.60" y1="304.42" x2="51.20" y2="304.42" stroke="#3a3a3a" stroke-width="0.9"/>
<text x="40.50" y="307.92" font-size="10.1" text-anchor="middle">0.6</text>
<line x1="49.60" y1="293.24" x2="51.20" y2="293.24" stroke="#3a3a3a" stroke-width="0.9"/>
<line x1="49.60" y1="282.06" x2="51.20" y2="282.06" stroke="#3a3a3a" stroke-width="0.9"/>
<text x="40.50" y="285.56" font-size="10.1" text-anchor="middle">0.8</text>
<line x1="49.60" y1="270.88" x2="51.20" y2="270.88" stroke="#3a3a3a" stroke-width="0.9"/>
<line x1="49.60" y1="259.70" x2="51.20" y2="259.70" stroke="#3a3a3a" stroke-width="0.9"/>
<text x="40.50" y="263.20" font-size="10.1" text-anchor="middle">1</text>
<line x1="58.80" y1="372.10" x2="58.80" y2="370.50" stroke="#3a3a3a" stroke-width="0.9"/>
<text x="58.80" y="381.00" font-size="10.5" text-anchor="middle">0</text>
<line x1="82.30" y1="372.10" x2="82.30" y2="370.50" stroke="#3a3a3a" stroke-width="0.9"/>
<text x="82.30" y="381.00" font-size="10.5" text-anchor="middle">30</text>
<line x1="127.00" y1="372.10" x2="127.00" y2="370.50" stroke="#3a3a3a" stroke-width="0.9"/>
<text x="127.00" y="381.00" font-size="10.5" text-anchor="middle">70</text>
<line x1="150.30" y1="372.10" x2="150.30" y2="370.50" stroke="#3a3a3a" stroke-width="0.9"/>
<text x="150.30" y="381.00" font-size="10.5" text-anchor="middle">100</text>
<text x="30.60" y="324.70" font-size="10.5" text-anchor="middle" textLength="103.2" lengthAdjust="spacingAndGlyphs" transform="rotate(-90 30.60 324.70)">Proportion of choices</text>
<text x="104.40" y="391.20" font-size="10.5" text-anchor="middle" textLength="103.6" lengthAdjust="spacingAndGlyphs">Stimulus morph level</text>
<polyline points="60.20,369.26 60.95,369.26 61.71,369.26 62.46,369.26 63.21,369.25 63.96,369.25 64.72,369.24 65.47,369.24 66.22,369.23 66.97,369.22 67.73,369.21 68.48,369.20 69.23,369.19 69.98,369.18 70.73,369.17 71.49,369.16 72.24,369.15 72.99,369.14 73.75,369.13 74.50,369.12 75.25,369.10 76.00,369.09 76.75,369.07 77.51,369.06 78.26,369.04 79.01,369.01 79.77,368.99 80.52,368.96 81.27,368.92 82.02,368.89 82.78,368.84 83.53,368.78 84.28,368.56 85.03,368.19 85.78,367.69 86.54,367.11 87.29,366.45 88.04,365.77 88.80,365.07 89.55,364.27 90.30,363.33 91.05,362.26 91.81,361.07 92.56,359.73 93.31,358.27 94.06,356.54 94.81,354.41 95.57,351.92 96.32,349.16 97.07,346.19 97.83,343.09 98.58,339.92 99.33,336.76 100.08,333.68 100.84,330.73 101.59,327.79 102.34,324.77 103.09,321.70 103.84,318.63 104.60,315.57 105.35,312.57 106.10,309.65 106.85,306.83 107.61,304.03 108.36,301.25 109.11,298.51 109.87,295.83 110.62,293.25 111.37,290.79 112.12,288.46 112.88,286.27 113.63,284.09 114.38,281.93 115.13,279.83 115.88,277.80 116.64,275.88 117.39,274.10 118.14,272.48 118.90,271.05 119.65,269.84 120.40,268.81 121.15,267.88 121.91,267.04 122.66,266.28 123.41,265.60 124.16,264.99 124.92,264.41 125.67,263.83 126.42,263.30 127.17,262.90 127.92,262.72 128.68,262.66 129.43,262.61 130.18,262.56 130.94,262.53 131.69,262.49 132.44,262.47 133.19,262.44 133.94,262.42 134.70,262.40 135.45,262.39 136.20,262.37 136.96,262.35 137.71,262.34 138.46,262.32 139.21,262.30 139.97,262.27 140.72,262.25 141.47,262.22 142.22,262.20 142.98,262.17 143.73,262.15 144.48,262.12 145.23,262.10 145.99,262.07 146.74,262.05 147.49,262.03 148.24,262.00 149.00,261.98 149.75,261.96 150.50,261.94" fill="none" stroke="#5D8E43" stroke-width="1.1" stroke-linejoin="round"/>
<polyline points="60.20,367.48 60.95,367.41 61.71,367.34 62.46,367.25 63.21,367.15 63.96,367.04 64.72,366.92 65.47,366.79 66.22,366.65 66.97,366.50 67.73,366.34 68.48,366.18 69.23,366.01 69.98,365.84 70.73,365.66 71.49,365.48 72.24,365.29 72.99,365.11 73.75,364.92 74.50,364.73 75.25,364.52 76.00,364.31 76.75,364.08 77.51,363.83 78.26,363.56 79.01,363.26 79.77,362.94 80.52,362.58 81.27,362.18 82.02,361.75 82.78,361.28 83.53,360.73 84.28,359.88 85.03,358.73 85.78,357.35 86.54,355.79 87.29,354.13 88.04,352.42 88.80,350.69 89.55,348.77 90.30,346.65 91.05,344.37 91.81,341.99 92.56,339.56 93.31,337.13 94.06,334.67 94.81,332.12 95.57,329.48 96.32,326.78 97.07,324.05 97.83,321.31 98.58,318.57 99.33,315.88 100.08,313.24 100.84,310.67 101.59,308.09 102.34,305.45 103.09,302.80 103.84,300.17 104.60,297.59 105.35,295.11 106.10,292.76 106.85,290.57 107.61,288.59 108.36,286.82 109.11,285.13 109.87,283.50 110.62,281.93 111.37,280.43 112.12,278.99 112.88,277.63 113.63,276.36 114.38,275.17 115.13,274.07 115.88,273.07 116.64,272.18 117.39,271.37 118.14,270.61 118.90,269.89 119.65,269.23 120.40,268.62 121.15,268.07 121.91,267.58 122.66,267.14 123.41,266.76 124.16,266.40 124.92,266.05 125.67,265.74 126.42,265.48 127.17,265.29 127.92,265.18 128.68,265.11 129.43,265.05 130.18,265.00 130.94,264.96 131.69,264.92 132.44,264.89 133.19,264.85 133.94,264.83 134.70,264.80 135.45,264.78 136.20,264.75 136.96,264.73 137.71,264.71 138.46,264.68 139.21,264.65 139.97,264.62 140.72,264.59 141.47,264.55 142.22,264.52 142.98,264.49 143.73,264.46 144.48,264.42 145.23,264.39 145.99,264.36 146.74,264.33 147.49,264.30 148.24,264.27 149.00,264.23 149.75,264.20 150.50,264.17" fill="none" stroke="#4A82BE" stroke-width="1.1" stroke-linejoin="round"/>
<line x1="60.20" y1="367.86" x2="60.20" y2="370.66" stroke="#5D8E43" stroke-width="0.9"/>
<line x1="59.30" y1="367.86" x2="61.10" y2="367.86" stroke="#5D8E43" stroke-width="0.9"/>
<line x1="59.30" y1="370.66" x2="61.10" y2="370.66" stroke="#5D8E43" stroke-width="0.9"/>
<line x1="60.20" y1="366.08" x2="60.20" y2="368.88" stroke="#4A82BE" stroke-width="0.9"/>
<line x1="59.30" y1="366.08" x2="61.10" y2="366.08" stroke="#4A82BE" stroke-width="0.9"/>
<line x1="59.30" y1="368.88" x2="61.10" y2="368.88" stroke="#4A82BE" stroke-width="0.9"/>
<line x1="83.20" y1="367.42" x2="83.20" y2="370.22" stroke="#5D8E43" stroke-width="0.9"/>
<line x1="82.30" y1="367.42" x2="84.10" y2="367.42" stroke="#5D8E43" stroke-width="0.9"/>
<line x1="82.30" y1="370.22" x2="84.10" y2="370.22" stroke="#5D8E43" stroke-width="0.9"/>
<line x1="83.20" y1="359.59" x2="83.20" y2="362.39" stroke="#4A82BE" stroke-width="0.9"/>
<line x1="82.30" y1="359.59" x2="84.10" y2="359.59" stroke="#4A82BE" stroke-width="0.9"/>
<line x1="82.30" y1="362.39" x2="84.10" y2="362.39" stroke="#4A82BE" stroke-width="0.9"/>
<line x1="127.90" y1="261.32" x2="127.90" y2="264.12" stroke="#5D8E43" stroke-width="0.9"/>
<line x1="127.00" y1="261.32" x2="128.80" y2="261.32" stroke="#5D8E43" stroke-width="0.9"/>
<line x1="127.00" y1="264.12" x2="128.80" y2="264.12" stroke="#5D8E43" stroke-width="0.9"/>
<line x1="127.90" y1="263.78" x2="127.90" y2="266.58" stroke="#4A82BE" stroke-width="0.9"/>
<line x1="127.00" y1="263.78" x2="128.80" y2="263.78" stroke="#4A82BE" stroke-width="0.9"/>
<line x1="127.00" y1="266.58" x2="128.80" y2="266.58" stroke="#4A82BE" stroke-width="0.9"/>
<line x1="150.50" y1="260.54" x2="150.50" y2="263.34" stroke="#5D8E43" stroke-width="0.9"/>
<line x1="149.60" y1="260.54" x2="151.40" y2="260.54" stroke="#5D8E43" stroke-width="0.9"/>
<line x1="149.60" y1="263.34" x2="151.40" y2="263.34" stroke="#5D8E43" stroke-width="0.9"/>
<line x1="150.50" y1="262.77" x2="150.50" y2="265.57" stroke="#4A82BE" stroke-width="0.9"/>
<line x1="149.60" y1="262.77" x2="151.40" y2="262.77" stroke="#4A82BE" stroke-width="0.9"/>
<line x1="149.60" y1="265.57" x2="151.40" y2="265.57" stroke="#4A82BE" stroke-width="0.9"/>
<line x1="114.20" y1="319.00" x2="131.70" y2="319.00" stroke="#5D8E43" stroke-width="2.6"/>
<line x1="114.20" y1="327.40" x2="131.70" y2="327.40" stroke="#4A82BE" stroke-width="2.6"/>
<text x="133.00" y="322.38" font-size="9.4" textLength="34.7" lengthAdjust="spacingAndGlyphs">C1 Task</text>
<text x="133.00" y="330.78" font-size="9.4" textLength="34.7" lengthAdjust="spacingAndGlyphs">C2 Task</text>
<text x="177.60" y="230.20" font-size="14.5" font-weight="bold" fill="#111">c</text>
<text x="274.25" y="227.70" font-size="10.3" text-anchor="middle" textLength="152.5" lengthAdjust="spacingAndGlyphs">Color categorization performance</text>
<text x="274.45" y="240.00" font-size="10.3" text-anchor="middle" textLength="90.3" lengthAdjust="spacingAndGlyphs">with 50% and 150%</text>
<text x="275.90" y="251.80" font-size="10.3" text-anchor="middle" textLength="83.6" lengthAdjust="spacingAndGlyphs">shape morph level</text>
<line x1="211.30" y1="263.00" x2="211.30" y2="372.40" stroke="#3a3a3a" stroke-width="1"/>
<line x1="211.30" y1="372.40" x2="321.00" y2="372.40" stroke="#3a3a3a" stroke-width="1"/>
<line x1="211.30" y1="271.80" x2="212.90" y2="271.80" stroke="#3a3a3a" stroke-width="0.9"/>
<text x="199.40" y="275.00" font-size="10.9" text-anchor="middle">1</text>
<line x1="211.30" y1="294.60" x2="212.90" y2="294.60" stroke="#3a3a3a" stroke-width="0.9"/>
<text x="199.40" y="297.80" font-size="10.9" text-anchor="middle">0.75</text>
<line x1="211.30" y1="317.40" x2="212.90" y2="317.40" stroke="#3a3a3a" stroke-width="0.9"/>
<text x="199.40" y="320.60" font-size="10.9" text-anchor="middle">0.5</text>
<line x1="211.30" y1="340.20" x2="212.90" y2="340.20" stroke="#3a3a3a" stroke-width="0.9"/>
<text x="199.40" y="343.40" font-size="10.9" text-anchor="middle">0.25</text>
<line x1="211.30" y1="363.00" x2="212.90" y2="363.00" stroke="#3a3a3a" stroke-width="0.9"/>
<text x="199.40" y="366.20" font-size="10.9" text-anchor="middle">0</text>
<line x1="211.80" y1="372.40" x2="211.80" y2="370.80" stroke="#3a3a3a" stroke-width="0.9"/>
<text x="211.80" y="382.10" font-size="10.6" text-anchor="middle">0</text>
<line x1="244.51" y1="372.40" x2="244.51" y2="370.80" stroke="#3a3a3a" stroke-width="0.9"/>
<text x="244.51" y="382.10" font-size="10.6" text-anchor="middle">30</text>
<line x1="289.29" y1="372.40" x2="289.29" y2="370.80" stroke="#3a3a3a" stroke-width="0.9"/>
<text x="289.29" y="382.10" font-size="10.6" text-anchor="middle">70</text>
<line x1="323.30" y1="372.40" x2="323.30" y2="370.80" stroke="#3a3a3a" stroke-width="0.9"/>
<text x="323.30" y="382.10" font-size="10.6" text-anchor="middle">100</text>
<text x="186.20" y="321.40" font-size="11" text-anchor="middle" textLength="103.2" lengthAdjust="spacingAndGlyphs" transform="rotate(-90 186.20 321.40)">Proportion of choices</text>
<text x="270.60" y="390.80" font-size="11.5" text-anchor="middle" textLength="85.8" lengthAdjust="spacingAndGlyphs">Color morph level</text>
<polyline points="211.30,356.45 212.40,356.15 213.49,355.82 214.59,355.47 215.69,355.09 216.79,354.68 217.88,354.24 218.98,353.76 220.08,353.25 221.17,352.70 222.27,352.11 223.37,351.47 224.46,350.79 225.56,350.07 226.66,349.29 227.75,348.47 228.85,347.59 229.95,346.65 231.05,345.66 232.14,344.61 233.24,343.50 234.34,342.33 235.43,341.10 236.53,339.81 237.63,338.46 238.73,337.06 239.82,335.59 240.92,334.07 242.02,332.50 243.11,330.88 244.21,329.22 245.31,327.51 246.40,325.77 247.50,324.00 248.60,322.21 249.69,320.39 250.79,318.57 251.89,316.74 252.99,314.91 254.08,313.09 255.18,311.29 256.28,309.51 257.37,307.75 258.47,306.03 259.57,304.34 260.67,302.70 261.76,301.10 262.86,299.56 263.96,298.07 265.05,296.63 266.15,295.26 267.25,293.94 268.34,292.68 269.44,291.48 270.54,290.34 271.63,289.26 272.73,288.24 273.83,287.28 274.93,286.37 276.02,285.52 277.12,284.72 278.22,283.97 279.31,283.27 280.41,282.61 281.51,282.00 282.61,281.43 283.70,280.90 284.80,280.41 285.90,279.95 286.99,279.52 288.09,279.13 289.19,278.76 290.28,278.42 291.38,278.11 292.48,277.82 293.57,277.55 294.67,277.30 295.77,277.08 296.87,276.86 297.96,276.67 299.06,276.49 300.16,276.32 301.25,276.17 302.35,276.03 303.45,275.90 304.55,275.78 305.64,275.67 306.74,275.57 307.84,275.48 308.93,275.39 310.03,275.32 311.13,275.24 312.22,275.18 313.32,275.12 314.42,275.06 315.51,275.01 316.61,274.96 317.71,274.92 318.81,274.88 319.90,274.84 321.00,274.81" fill="none" stroke="#5D8E43" stroke-width="1.15" stroke-linejoin="round"/>
<polyline points="211.30,360.91 212.40,360.69 213.49,360.45 214.59,360.20 215.69,359.93 216.79,359.63 217.88,359.32 218.98,358.98 220.08,358.61 221.17,358.22 222.27,357.80 223.37,357.35 224.46,356.87 225.56,356.35 226.66,355.80 227.75,355.21 228.85,354.58 229.95,353.91 231.05,353.20 232.14,352.44 233.24,351.63 234.34,350.77 235.43,349.87 236.53,348.91 237.63,347.89 238.73,346.83 239.82,345.71 240.92,344.53 242.02,343.29 243.11,342.00 244.21,340.66 245.31,339.26 246.40,337.80 247.50,336.29 248.60,334.74 249.69,333.13 250.79,331.49 251.89,329.80 252.99,328.07 254.08,326.32 255.18,324.53 256.28,322.73 257.37,320.91 258.47,319.08 259.57,317.24 260.67,315.40 261.76,313.57 262.86,311.75 263.96,309.95 265.05,308.18 266.15,306.43 267.25,304.71 268.34,303.03 269.44,301.40 270.54,299.80 271.63,298.26 272.73,296.76 273.83,295.32 274.93,293.93 276.02,292.60 277.12,291.32 278.22,290.10 279.31,288.94 280.41,287.83 281.51,286.78 282.61,285.78 283.70,284.83 284.80,283.94 285.90,283.09 286.99,282.30 288.09,281.55 289.19,280.84 290.28,280.18 291.38,279.56 292.48,278.98 293.57,278.44 294.67,277.93 295.77,277.46 296.87,277.01 297.96,276.60 299.06,276.22 300.16,275.86 301.25,275.52 302.35,275.21 303.45,274.93 304.55,274.66 305.64,274.41 306.74,274.18 307.84,273.96 308.93,273.76 310.03,273.58 311.13,273.41 312.22,273.25 313.32,273.10 314.42,272.97 315.51,272.84 316.61,272.72 317.71,272.61 318.81,272.51 319.90,272.42 321.00,272.34" fill="none" stroke="#4A82BE" stroke-width="1.15" stroke-linejoin="round"/>
<line x1="321.00" y1="273.61" x2="321.00" y2="276.01" stroke="#5D8E43" stroke-width="0.9"/>
<line x1="320.30" y1="273.61" x2="321.70" y2="273.61" stroke="#5D8E43" stroke-width="0.9"/>
<line x1="320.30" y1="276.01" x2="321.70" y2="276.01" stroke="#5D8E43" stroke-width="0.9"/>
<line x1="321.00" y1="271.14" x2="321.00" y2="273.54" stroke="#4A82BE" stroke-width="0.9"/>
<line x1="320.30" y1="271.14" x2="321.70" y2="271.14" stroke="#4A82BE" stroke-width="0.9"/>
<line x1="320.30" y1="273.54" x2="321.70" y2="273.54" stroke="#4A82BE" stroke-width="0.9"/>
<line x1="273.50" y1="319.60" x2="290.80" y2="319.60" stroke="#5D8E43" stroke-width="2.6"/>
<line x1="273.50" y1="327.40" x2="290.80" y2="327.40" stroke="#4A82BE" stroke-width="2.6"/>
<text x="292.30" y="323.02" font-size="9.5" textLength="34.9" lengthAdjust="spacingAndGlyphs">C1 Task</text>
<text x="292.30" y="330.82" font-size="9.5" textLength="34.9" lengthAdjust="spacingAndGlyphs">C2 Task</text>
<text x="442.85" y="227.70" font-size="10.3" text-anchor="middle" textLength="152.3" lengthAdjust="spacingAndGlyphs">Color categorization performance</text>
<text x="442.75" y="238.10" font-size="10.3" text-anchor="middle" textLength="150.1" lengthAdjust="spacingAndGlyphs">with 30%, 70%, 130% and 170%</text>
<text x="443.35" y="250.10" font-size="10.3" text-anchor="middle" textLength="84.7" lengthAdjust="spacingAndGlyphs">shape morph level</text>
<line x1="381.50" y1="263.00" x2="381.50" y2="372.40" stroke="#3a3a3a" stroke-width="1"/>
<line x1="381.50" y1="372.40" x2="491.20" y2="372.40" stroke="#3a3a3a" stroke-width="1"/>
<line x1="381.50" y1="271.80" x2="383.10" y2="271.80" stroke="#3a3a3a" stroke-width="0.9"/>
<text x="369.60" y="275.00" font-size="10.9" text-anchor="middle">1</text>
<line x1="381.50" y1="294.60" x2="383.10" y2="294.60" stroke="#3a3a3a" stroke-width="0.9"/>
<text x="369.60" y="297.80" font-size="10.9" text-anchor="middle">0.75</text>
<line x1="381.50" y1="317.40" x2="383.10" y2="317.40" stroke="#3a3a3a" stroke-width="0.9"/>
<text x="369.60" y="320.60" font-size="10.9" text-anchor="middle">0.5</text>
<line x1="381.50" y1="340.20" x2="383.10" y2="340.20" stroke="#3a3a3a" stroke-width="0.9"/>
<text x="369.60" y="343.40" font-size="10.9" text-anchor="middle">0.25</text>
<line x1="381.50" y1="363.00" x2="383.10" y2="363.00" stroke="#3a3a3a" stroke-width="0.9"/>
<text x="369.60" y="366.20" font-size="10.9" text-anchor="middle">0</text>
<line x1="382.00" y1="372.40" x2="382.00" y2="370.80" stroke="#3a3a3a" stroke-width="0.9"/>
<text x="382.00" y="382.10" font-size="10.6" text-anchor="middle">0</text>
<line x1="414.71" y1="372.40" x2="414.71" y2="370.80" stroke="#3a3a3a" stroke-width="0.9"/>
<text x="414.71" y="382.10" font-size="10.6" text-anchor="middle">30</text>
<line x1="459.49" y1="372.40" x2="459.49" y2="370.80" stroke="#3a3a3a" stroke-width="0.9"/>
<text x="459.49" y="382.10" font-size="10.6" text-anchor="middle">70</text>
<line x1="493.50" y1="372.40" x2="493.50" y2="370.80" stroke="#3a3a3a" stroke-width="0.9"/>
<text x="493.50" y="382.10" font-size="10.6" text-anchor="middle">100</text>
<text x="356.40" y="321.40" font-size="11" text-anchor="middle" textLength="103.2" lengthAdjust="spacingAndGlyphs" transform="rotate(-90 356.40 321.40)">Proportion of choices</text>
<text x="440.80" y="390.80" font-size="11.5" text-anchor="middle" textLength="85.8" lengthAdjust="spacingAndGlyphs">Color morph level</text>
<polyline points="381.50,349.52 382.60,349.40 383.69,349.29 384.79,349.16 385.89,349.01 386.99,348.86 388.08,348.70 389.18,348.52 390.28,348.33 391.37,348.12 392.47,347.89 393.57,347.65 394.66,347.38 395.76,347.10 396.86,346.79 397.95,346.46 399.05,346.11 400.15,345.72 401.25,345.31 402.34,344.87 403.44,344.40 404.54,343.89 405.63,343.35 406.73,342.77 407.83,342.15 408.93,341.49 410.02,340.80 411.12,340.05 412.22,339.27 413.31,338.44 414.41,337.56 415.51,336.64 416.60,335.68 417.70,334.66 418.80,333.60 419.89,332.50 420.99,331.36 422.09,330.17 423.19,328.94 424.28,327.68 425.38,326.39 426.48,325.06 427.57,323.71 428.67,322.34 429.77,320.95 430.87,319.55 431.96,318.14 433.06,316.73 434.16,315.32 435.25,313.92 436.35,312.53 437.45,311.16 438.54,309.81 439.64,308.49 440.74,307.20 441.83,305.94 442.93,304.71 444.03,303.53 445.13,302.39 446.22,301.29 447.32,300.23 448.42,299.22 449.51,298.26 450.61,297.34 451.71,296.46 452.81,295.64 453.90,294.85 455.00,294.12 456.10,293.42 457.19,292.76 458.29,292.15 459.39,291.57 460.48,291.03 461.58,290.53 462.68,290.06 463.77,289.62 464.87,289.21 465.97,288.83 467.07,288.47 468.16,288.14 469.26,287.84 470.36,287.56 471.45,287.29 472.55,287.05 473.65,286.83 474.75,286.62 475.84,286.42 476.94,286.25 478.04,286.08 479.13,285.93 480.23,285.79 481.33,285.66 482.42,285.54 483.52,285.43 484.62,285.33 485.72,285.24 486.81,285.15 487.91,285.07 489.01,285.00 490.10,284.93 491.20,284.87" fill="none" stroke="#5D8E43" stroke-width="1.15" stroke-linejoin="round"/>
<polyline points="381.50,362.76 382.60,362.73 383.69,362.68 384.79,362.64 385.89,362.59 386.99,362.53 388.08,362.46 389.18,362.39 390.28,362.31 391.37,362.21 392.47,362.11 393.57,361.99 394.66,361.85 395.76,361.70 396.86,361.53 397.95,361.34 399.05,361.12 400.15,360.87 401.25,360.60 402.34,360.29 403.44,359.95 404.54,359.56 405.63,359.13 406.73,358.64 407.83,358.10 408.93,357.50 410.02,356.83 411.12,356.08 412.22,355.26 413.31,354.34 414.41,353.33 415.51,352.22 416.60,351.00 417.70,349.66 418.80,348.20 419.89,346.62 420.99,344.91 422.09,343.07 423.19,341.10 424.28,339.00 425.38,336.78 426.48,334.44 427.57,332.00 428.67,329.45 429.77,326.83 430.87,324.14 431.96,321.40 433.06,318.64 434.16,315.87 435.25,313.11 436.35,310.39 437.45,307.72 438.54,305.12 439.64,302.61 440.74,300.20 441.83,297.91 442.93,295.73 444.03,293.68 445.13,291.75 446.22,289.96 447.32,288.30 448.42,286.76 449.51,285.35 450.61,284.05 451.71,282.87 452.81,281.80 453.90,280.82 455.00,279.94 456.10,279.14 457.19,278.42 458.29,277.78 459.39,277.20 460.48,276.68 461.58,276.21 462.68,275.80 463.77,275.42 464.87,275.09 465.97,274.80 467.07,274.54 468.16,274.30 469.26,274.09 470.36,273.91 471.45,273.75 472.55,273.60 473.65,273.47 474.75,273.36 475.84,273.25 476.94,273.16 478.04,273.08 479.13,273.01 480.23,272.95 481.33,272.90 482.42,272.85 483.52,272.80 484.62,272.76 485.72,272.73 486.81,272.70 487.91,272.67 489.01,272.65 490.10,272.63 491.20,272.61" fill="none" stroke="#4A82BE" stroke-width="1.15" stroke-linejoin="round"/>
<line x1="414.41" y1="336.36" x2="414.41" y2="338.76" stroke="#5D8E43" stroke-width="0.9"/>
<line x1="413.71" y1="336.36" x2="415.11" y2="336.36" stroke="#5D8E43" stroke-width="0.9"/>
<line x1="413.71" y1="338.76" x2="415.11" y2="338.76" stroke="#5D8E43" stroke-width="0.9"/>
<line x1="458.29" y1="290.95" x2="458.29" y2="293.35" stroke="#5D8E43" stroke-width="0.9"/>
<line x1="457.59" y1="290.95" x2="458.99" y2="290.95" stroke="#5D8E43" stroke-width="0.9"/>
<line x1="457.59" y1="293.35" x2="458.99" y2="293.35" stroke="#5D8E43" stroke-width="0.9"/>
<line x1="491.20" y1="283.67" x2="491.20" y2="286.07" stroke="#5D8E43" stroke-width="0.9"/>
<line x1="490.50" y1="283.67" x2="491.90" y2="283.67" stroke="#5D8E43" stroke-width="0.9"/>
<line x1="490.50" y1="286.07" x2="491.90" y2="286.07" stroke="#5D8E43" stroke-width="0.9"/>
<line x1="414.41" y1="352.13" x2="414.41" y2="354.53" stroke="#4A82BE" stroke-width="0.9"/>
<line x1="413.71" y1="352.13" x2="415.11" y2="352.13" stroke="#4A82BE" stroke-width="0.9"/>
<line x1="413.71" y1="354.53" x2="415.11" y2="354.53" stroke="#4A82BE" stroke-width="0.9"/>
<line x1="458.29" y1="276.58" x2="458.29" y2="278.98" stroke="#4A82BE" stroke-width="0.9"/>
<line x1="457.59" y1="276.58" x2="458.99" y2="276.58" stroke="#4A82BE" stroke-width="0.9"/>
<line x1="457.59" y1="278.98" x2="458.99" y2="278.98" stroke="#4A82BE" stroke-width="0.9"/>
<line x1="491.20" y1="271.41" x2="491.20" y2="273.81" stroke="#4A82BE" stroke-width="0.9"/>
<line x1="490.50" y1="271.41" x2="491.90" y2="271.41" stroke="#4A82BE" stroke-width="0.9"/>
<line x1="490.50" y1="273.81" x2="491.90" y2="273.81" stroke="#4A82BE" stroke-width="0.9"/>
<line x1="441.30" y1="331.60" x2="458.60" y2="331.60" stroke="#5D8E43" stroke-width="2.6"/>
<line x1="441.30" y1="339.70" x2="458.60" y2="339.70" stroke="#4A82BE" stroke-width="2.6"/>
<text x="459.70" y="335.02" font-size="9.5" textLength="34.9" lengthAdjust="spacingAndGlyphs">C1 Task</text>
<text x="459.70" y="343.12" font-size="9.5" textLength="34.9" lengthAdjust="spacingAndGlyphs">C2 Task</text>
<text x="608.50" y="226.80" font-size="10.3" text-anchor="middle" textLength="152.0" lengthAdjust="spacingAndGlyphs">Color categorization performance</text>
<text x="606.50" y="238.10" font-size="10.3" text-anchor="middle" textLength="84.6" lengthAdjust="spacingAndGlyphs">with 0% and 100%</text>
<text x="608.65" y="250.20" font-size="10.3" text-anchor="middle" textLength="84.1" lengthAdjust="spacingAndGlyphs">shape morph level</text>
<line x1="548.30" y1="263.00" x2="548.30" y2="372.40" stroke="#3a3a3a" stroke-width="1"/>
<line x1="548.30" y1="372.40" x2="658.00" y2="372.40" stroke="#3a3a3a" stroke-width="1"/>
<line x1="548.30" y1="271.80" x2="549.90" y2="271.80" stroke="#3a3a3a" stroke-width="0.9"/>
<text x="536.40" y="275.00" font-size="10.9" text-anchor="middle">1</text>
<line x1="548.30" y1="294.60" x2="549.90" y2="294.60" stroke="#3a3a3a" stroke-width="0.9"/>
<text x="536.40" y="297.80" font-size="10.9" text-anchor="middle">0.75</text>
<line x1="548.30" y1="317.40" x2="549.90" y2="317.40" stroke="#3a3a3a" stroke-width="0.9"/>
<text x="536.40" y="320.60" font-size="10.9" text-anchor="middle">0.5</text>
<line x1="548.30" y1="340.20" x2="549.90" y2="340.20" stroke="#3a3a3a" stroke-width="0.9"/>
<text x="536.40" y="343.40" font-size="10.9" text-anchor="middle">0.25</text>
<line x1="548.30" y1="363.00" x2="549.90" y2="363.00" stroke="#3a3a3a" stroke-width="0.9"/>
<text x="536.40" y="366.20" font-size="10.9" text-anchor="middle">0</text>
<line x1="548.80" y1="372.40" x2="548.80" y2="370.80" stroke="#3a3a3a" stroke-width="0.9"/>
<text x="548.80" y="382.10" font-size="10.6" text-anchor="middle">0</text>
<line x1="581.51" y1="372.40" x2="581.51" y2="370.80" stroke="#3a3a3a" stroke-width="0.9"/>
<text x="581.51" y="382.10" font-size="10.6" text-anchor="middle">30</text>
<line x1="626.29" y1="372.40" x2="626.29" y2="370.80" stroke="#3a3a3a" stroke-width="0.9"/>
<text x="626.29" y="382.10" font-size="10.6" text-anchor="middle">70</text>
<line x1="660.30" y1="372.40" x2="660.30" y2="370.80" stroke="#3a3a3a" stroke-width="0.9"/>
<text x="660.30" y="382.10" font-size="10.6" text-anchor="middle">100</text>
<text x="523.20" y="317.90" font-size="11" text-anchor="middle" textLength="103.2" lengthAdjust="spacingAndGlyphs" transform="rotate(-90 523.20 317.90)">Proportion of choices</text>
<text x="607.60" y="390.80" font-size="11.5" text-anchor="middle" textLength="85.8" lengthAdjust="spacingAndGlyphs">Color morph level</text>
<polyline points="548.30,338.05 549.40,337.79 550.49,337.52 551.59,337.25 552.69,336.96 553.78,336.67 554.88,336.37 555.98,336.06 557.08,335.75 558.17,335.42 559.27,335.09 560.37,334.75 561.46,334.40 562.56,334.04 563.66,333.67 564.75,333.29 565.85,332.91 566.95,332.51 568.05,332.11 569.14,331.70 570.24,331.28 571.34,330.85 572.43,330.41 573.53,329.97 574.63,329.51 575.72,329.05 576.82,328.58 577.92,328.11 579.02,327.62 580.11,327.13 581.21,326.63 582.31,326.13 583.40,325.62 584.50,325.10 585.60,324.57 586.69,324.04 587.79,323.51 588.89,322.97 589.99,322.43 591.08,321.88 592.18,321.33 593.28,320.77 594.37,320.21 595.47,319.65 596.57,319.09 597.66,318.53 598.76,317.96 599.86,317.39 600.96,316.83 602.05,316.26 603.15,315.69 604.25,315.13 605.34,314.57 606.44,314.01 607.54,313.45 608.63,312.89 609.73,312.34 610.83,311.79 611.93,311.25 613.02,310.70 614.12,310.17 615.22,309.64 616.31,309.11 617.41,308.59 618.51,308.08 619.60,307.57 620.70,307.07 621.80,306.58 622.90,306.10 623.99,305.62 625.09,305.15 626.19,304.68 627.28,304.23 628.38,303.78 629.48,303.34 630.57,302.91 631.67,302.49 632.77,302.08 633.87,301.67 634.96,301.28 636.06,300.89 637.16,300.51 638.25,300.14 639.35,299.78 640.45,299.43 641.54,299.09 642.64,298.75 643.74,298.42 644.84,298.11 645.93,297.80 647.03,297.49 648.13,297.20 649.22,296.92 650.32,296.64 651.42,296.37 652.51,296.11 653.61,295.85 654.71,295.61 655.81,295.37 656.90,295.14 658.00,294.91" fill="none" stroke="#5D8E43" stroke-width="1.15" stroke-linejoin="round"/>
<polyline points="548.30,362.17 549.40,362.16 550.49,362.14 551.59,362.12 552.69,362.10 553.78,362.08 554.88,362.05 555.98,362.01 557.08,361.97 558.17,361.92 559.27,361.87 560.37,361.81 561.46,361.74 562.56,361.65 563.66,361.56 564.75,361.45 565.85,361.32 566.95,361.17 568.05,360.99 569.14,360.79 570.24,360.56 571.34,360.30 572.43,359.99 573.53,359.64 574.63,359.23 575.72,358.76 576.82,358.23 577.92,357.62 579.02,356.92 580.11,356.12 581.21,355.21 582.31,354.19 583.40,353.03 584.50,351.72 585.60,350.26 586.69,348.63 587.79,346.82 588.89,344.83 589.99,342.65 591.08,340.28 592.18,337.72 593.28,334.99 594.37,332.09 595.47,329.05 596.57,325.89 597.66,322.64 598.76,319.34 599.86,316.01 600.96,312.70 602.05,309.44 603.15,306.27 604.25,303.21 605.34,300.30 606.44,297.54 607.54,294.96 608.63,292.57 609.73,290.37 610.83,288.35 611.93,286.52 613.02,284.87 614.12,283.39 615.22,282.07 616.31,280.89 617.41,279.85 618.51,278.93 619.60,278.12 620.70,277.41 621.80,276.79 622.90,276.24 623.99,275.77 625.09,275.35 626.19,275.00 627.28,274.68 628.38,274.41 629.48,274.18 630.57,273.97 631.67,273.80 632.77,273.65 633.87,273.52 634.96,273.40 636.06,273.30 637.16,273.22 638.25,273.14 639.35,273.08 640.45,273.03 641.54,272.98 642.64,272.94 643.74,272.90 644.84,272.87 645.93,272.85 647.03,272.83 648.13,272.81 649.22,272.79 650.32,272.77 651.42,272.76 652.51,272.75 653.61,272.74 654.71,272.73 655.81,272.73 656.90,272.72 658.00,272.72" fill="none" stroke="#4A82BE" stroke-width="1.15" stroke-linejoin="round"/>
<line x1="581.21" y1="325.43" x2="581.21" y2="327.83" stroke="#5D8E43" stroke-width="0.9"/>
<line x1="580.51" y1="325.43" x2="581.91" y2="325.43" stroke="#5D8E43" stroke-width="0.9"/>
<line x1="580.51" y1="327.83" x2="581.91" y2="327.83" stroke="#5D8E43" stroke-width="0.9"/>
<line x1="625.09" y1="303.95" x2="625.09" y2="306.35" stroke="#5D8E43" stroke-width="0.9"/>
<line x1="624.39" y1="303.95" x2="625.79" y2="303.95" stroke="#5D8E43" stroke-width="0.9"/>
<line x1="624.39" y1="306.35" x2="625.79" y2="306.35" stroke="#5D8E43" stroke-width="0.9"/>
<line x1="658.00" y1="293.71" x2="658.00" y2="296.11" stroke="#5D8E43" stroke-width="0.9"/>
<line x1="657.30" y1="293.71" x2="658.70" y2="293.71" stroke="#5D8E43" stroke-width="0.9"/>
<line x1="657.30" y1="296.11" x2="658.70" y2="296.11" stroke="#5D8E43" stroke-width="0.9"/>
<line x1="581.21" y1="354.01" x2="581.21" y2="356.41" stroke="#4A82BE" stroke-width="0.9"/>
<line x1="580.51" y1="354.01" x2="581.91" y2="354.01" stroke="#4A82BE" stroke-width="0.9"/>
<line x1="580.51" y1="356.41" x2="581.91" y2="356.41" stroke="#4A82BE" stroke-width="0.9"/>
<line x1="625.09" y1="274.15" x2="625.09" y2="276.55" stroke="#4A82BE" stroke-width="0.9"/>
<line x1="624.39" y1="274.15" x2="625.79" y2="274.15" stroke="#4A82BE" stroke-width="0.9"/>
<line x1="624.39" y1="276.55" x2="625.79" y2="276.55" stroke="#4A82BE" stroke-width="0.9"/>
<line x1="658.00" y1="271.52" x2="658.00" y2="273.92" stroke="#4A82BE" stroke-width="0.9"/>
<line x1="657.30" y1="271.52" x2="658.70" y2="271.52" stroke="#4A82BE" stroke-width="0.9"/>
<line x1="657.30" y1="273.92" x2="658.70" y2="273.92" stroke="#4A82BE" stroke-width="0.9"/>
<line x1="556.20" y1="274.70" x2="573.50" y2="274.70" stroke="#5D8E43" stroke-width="2.6"/>
<line x1="556.20" y1="282.30" x2="573.50" y2="282.30" stroke="#4A82BE" stroke-width="2.6"/>
<text x="574.70" y="278.12" font-size="9.5" textLength="34.9" lengthAdjust="spacingAndGlyphs">C1 Task</text>
<text x="574.70" y="285.72" font-size="9.5" textLength="34.9" lengthAdjust="spacingAndGlyphs">C2 Task</text>
<text x="0.20" y="421.50" font-size="14.5" font-weight="bold" fill="#111">d</text>
<text x="19.30" y="416.60" font-size="12" textLength="187.4" lengthAdjust="spacingAndGlyphs">C1 and C2 behavioral performance</text>
<text x="19.30" y="430.00" font-size="12" textLength="183.7" lengthAdjust="spacingAndGlyphs">based on irrelevant feature(shape)</text>
<line x1="50.60" y1="445.30" x2="50.60" y2="592.40" stroke="#3a3a3a" stroke-width="1"/>
<line x1="50.60" y1="592.40" x2="196.40" y2="592.40" stroke="#3a3a3a" stroke-width="1"/>
<line x1="50.60" y1="446.00" x2="52.40" y2="446.00" stroke="#3a3a3a" stroke-width="0.9"/>
<text x="47.80" y="452.60" font-size="12.3" text-anchor="end">1</text>
<line x1="50.60" y1="482.60" x2="52.40" y2="482.60" stroke="#3a3a3a" stroke-width="0.9"/>
<text x="47.80" y="486.90" font-size="12.3" text-anchor="end">0.75</text>
<line x1="50.60" y1="519.20" x2="52.40" y2="519.20" stroke="#3a3a3a" stroke-width="0.9"/>
<text x="47.80" y="523.50" font-size="12.3" text-anchor="end">0.5</text>
<line x1="50.60" y1="555.80" x2="52.40" y2="555.80" stroke="#3a3a3a" stroke-width="0.9"/>
<text x="47.80" y="560.10" font-size="12.3" text-anchor="end">0.25</text>
<line x1="50.60" y1="592.40" x2="52.40" y2="592.40" stroke="#3a3a3a" stroke-width="0.9"/>
<text x="47.80" y="598.50" font-size="12.3" text-anchor="end">0</text>
<line x1="94.34" y1="592.40" x2="94.34" y2="590.60" stroke="#3a3a3a" stroke-width="0.9"/>
<line x1="152.66" y1="592.40" x2="152.66" y2="590.60" stroke="#3a3a3a" stroke-width="0.9"/>
<text x="54.05" y="603.60" font-size="12.6" text-anchor="middle">0</text>
<text x="94.20" y="603.60" font-size="12.6" text-anchor="middle">30</text>
<text x="152.30" y="603.60" font-size="12.6" text-anchor="middle">70</text>
<text x="196.10" y="603.60" font-size="12.6" text-anchor="middle">100</text>
<text x="126.00" y="614.50" font-size="12.8" text-anchor="middle" textLength="113.4" lengthAdjust="spacingAndGlyphs">Shape morph level</text>
<text x="19.00" y="518.20" font-size="12.8" text-anchor="middle" textLength="126.6" lengthAdjust="spacingAndGlyphs" transform="rotate(-90 19.00 518.20)">Proportion of choices</text>
<polyline points="50.60,520.00 52.06,519.68 53.52,519.28 54.97,518.83 56.43,518.39 57.89,517.99 59.35,517.67 60.81,517.44 62.26,517.28 63.72,517.18 65.18,517.11 66.64,517.07 68.10,517.04 69.55,517.03 71.01,517.02 72.47,517.01 73.93,517.01 75.39,517.01 76.84,517.01 78.30,517.01 79.76,517.00 81.22,517.00 82.68,517.00 84.13,517.00 85.59,517.00 87.05,517.00 88.51,517.00 89.97,517.00 91.42,517.00 92.88,517.00 94.34,517.00 95.80,517.00 97.26,517.00 98.71,517.00 100.17,517.00 101.63,517.00 103.09,517.00 104.55,517.00 106.00,517.00 107.46,517.00 108.92,517.00 110.38,517.00 111.84,517.00 113.29,517.00 114.75,517.00 116.21,517.00 117.67,517.00 119.13,517.00 120.58,517.00 122.04,517.00 123.50,517.00 124.96,517.00 126.42,517.00 127.87,517.00 129.33,517.00 130.79,517.00 132.25,517.00 133.71,517.00 135.16,517.00 136.62,517.00 138.08,517.00 139.54,517.00 141.00,517.00 142.45,517.00 143.91,517.00 145.37,517.00 146.83,517.00 148.29,517.00 149.74,517.00 151.20,517.00 152.66,517.00 154.12,517.00 155.58,517.00 157.03,517.00 158.49,517.00 159.95,517.00 161.41,517.00 162.87,517.00 164.32,517.00 165.78,517.00 167.24,517.00 168.70,517.00 170.16,517.00 171.61,517.00 173.07,517.00 174.53,517.00 175.99,517.00 177.45,517.00 178.90,517.00 180.36,517.00 181.82,517.00 183.28,517.00 184.74,517.00 186.19,517.00 187.65,517.00 189.11,517.00 190.57,517.00 192.03,517.00 193.48,517.00 194.94,517.00 196.40,517.00" fill="none" stroke="#4A82BE" stroke-width="1.15" stroke-linejoin="round"/>
<polyline points="50.60,542.88 52.06,542.70 53.52,542.51 54.97,542.32 56.43,542.12 57.89,541.91 59.35,541.69 60.81,541.47 62.26,541.23 63.72,540.99 65.18,540.74 66.64,540.49 68.10,540.22 69.55,539.94 71.01,539.66 72.47,539.36 73.93,539.06 75.39,538.74 76.84,538.42 78.30,538.08 79.76,537.74 81.22,537.38 82.68,537.01 84.13,536.64 85.59,536.25 87.05,535.85 88.51,535.44 89.97,535.02 91.42,534.59 92.88,534.14 94.34,533.69 95.80,533.22 97.26,532.75 98.71,532.26 100.17,531.77 101.63,531.26 103.09,530.74 104.55,530.22 106.00,529.68 107.46,529.13 108.92,528.58 110.38,528.01 111.84,527.44 113.29,526.86 114.75,526.28 116.21,525.68 117.67,525.08 119.13,524.47 120.58,523.86 122.04,523.24 123.50,522.62 124.96,521.99 126.42,521.36 127.87,520.73 129.33,520.09 130.79,519.46 132.25,518.82 133.71,518.18 135.16,517.54 136.62,516.91 138.08,516.27 139.54,515.64 141.00,515.01 142.45,514.39 143.91,513.76 145.37,513.15 146.83,512.54 148.29,511.93 149.74,511.33 151.20,510.74 152.66,510.15 154.12,509.57 155.58,509.00 157.03,508.44 158.49,507.89 159.95,507.34 161.41,506.81 162.87,506.28 164.32,505.77 165.78,505.26 167.24,504.77 168.70,504.29 170.16,503.81 171.61,503.35 173.07,502.90 174.53,502.46 175.99,502.03 177.45,501.61 178.90,501.20 180.36,500.81 181.82,500.42 183.28,500.05 184.74,499.68 186.19,499.33 187.65,498.99 189.11,498.65 190.57,498.33 192.03,498.02 193.48,497.71 194.94,497.42 196.40,497.14" fill="none" stroke="#5D8E43" stroke-width="1.15" stroke-linejoin="round"/>
<line x1="98.10" y1="466.60" x2="115.60" y2="466.60" stroke="#5D8E43" stroke-width="2.6"/>
<line x1="98.10" y1="476.40" x2="115.60" y2="476.40" stroke="#4A82BE" stroke-width="2.6"/>
<text x="116.90" y="469.98" font-size="9.4" textLength="35.3" lengthAdjust="spacingAndGlyphs">C1 Task</text>
<text x="116.90" y="479.78" font-size="9.4" textLength="35.3" lengthAdjust="spacingAndGlyphs">C2 Task</text>
<text x="215.00" y="419.30" font-size="14.5" font-weight="bold" fill="#111">e</text>
<text x="229.50" y="416.50" font-size="10.7" textLength="189.2" lengthAdjust="spacingAndGlyphs">Average performance of FIRST 15 trials</text>
<text x="242.80" y="428.70" font-size="10.7" textLength="165.4" lengthAdjust="spacingAndGlyphs">of S1 and C1 tasks across blocks</text>
<line x1="324.80" y1="442.00" x2="324.80" y2="592.30" stroke="#EE8484" stroke-width="2.0" stroke-dasharray="21.5 21.5" stroke-dashoffset="5.3"/>
<line x1="347.80" y1="442.00" x2="347.80" y2="592.30" stroke="#9AAA8E" stroke-width="1.6" stroke-dasharray="21.5 21.5" stroke-dashoffset="5.3"/>
<g opacity="0.82">
<rect x="289.35" y="556.89" width="3.90" height="35.41" fill="#E8A34C" stroke="#E0923A" stroke-width="0.5"/>
<rect x="304.45" y="570.89" width="3.90" height="21.41" fill="#E8A34C" stroke="#E0923A" stroke-width="0.5"/>
<rect x="319.55" y="447.56" width="3.90" height="144.74" fill="#E8A34C" stroke="#E0923A" stroke-width="0.5"/>
<rect x="334.65" y="528.22" width="3.90" height="64.08" fill="#E8A34C" stroke="#E0923A" stroke-width="0.5"/>
<rect x="349.75" y="539.22" width="3.90" height="53.08" fill="#E8A34C" stroke="#E0923A" stroke-width="0.5"/>
<rect x="364.85" y="581.55" width="3.90" height="10.75" fill="#E8A34C" stroke="#E0923A" stroke-width="0.5"/>
<rect x="379.95" y="589.22" width="3.90" height="3.08" fill="#E8A34C" stroke="#E0923A" stroke-width="0.5"/>
</g>
<g opacity="0.82">
<rect x="262.55" y="589.22" width="3.60" height="3.08" fill="#5F9040" stroke="#4A7A33" stroke-width="0.5"/>
<rect x="292.75" y="589.22" width="3.60" height="3.08" fill="#5F9040" stroke="#4A7A33" stroke-width="0.5"/>
<rect x="307.85" y="581.55" width="3.60" height="10.75" fill="#5F9040" stroke="#4A7A33" stroke-width="0.5"/>
<rect x="322.95" y="516.89" width="3.60" height="75.41" fill="#5F9040" stroke="#4A7A33" stroke-width="0.5"/>
<rect x="338.05" y="567.89" width="3.60" height="24.41" fill="#5F9040" stroke="#4A7A33" stroke-width="0.5"/>
<rect x="353.15" y="492.56" width="3.60" height="99.74" fill="#5F9040" stroke="#4A7A33" stroke-width="0.5"/>
<rect x="368.25" y="547.55" width="3.60" height="44.75" fill="#5F9040" stroke="#4A7A33" stroke-width="0.5"/>
<rect x="383.35" y="530.22" width="3.60" height="62.08" fill="#5F9040" stroke="#4A7A33" stroke-width="0.5"/>
<rect x="398.45" y="581.55" width="3.60" height="10.75" fill="#5F9040" stroke="#4A7A33" stroke-width="0.5"/>
</g>
<line x1="255.30" y1="442.00" x2="255.30" y2="592.30" stroke="#3a3a3a" stroke-width="1"/>
<line x1="255.30" y1="592.30" x2="406.00" y2="592.30" stroke="#3a3a3a" stroke-width="1"/>
<line x1="255.30" y1="592.30" x2="257.10" y2="592.30" stroke="#3a3a3a" stroke-width="0.9"/>
<text x="237.50" y="596.40" font-size="12" text-anchor="middle">0</text>
<line x1="255.30" y1="575.63" x2="257.10" y2="575.63" stroke="#3a3a3a" stroke-width="0.9"/>
<text x="240.20" y="579.74" font-size="12" text-anchor="middle">0.05</text>
<line x1="255.30" y1="558.97" x2="257.10" y2="558.97" stroke="#3a3a3a" stroke-width="0.9"/>
<text x="240.20" y="563.07" font-size="12" text-anchor="middle">0.1</text>
<line x1="255.30" y1="542.30" x2="257.10" y2="542.30" stroke="#3a3a3a" stroke-width="0.9"/>
<text x="240.20" y="546.40" font-size="12" text-anchor="middle">0.15</text>
<line x1="255.30" y1="525.64" x2="257.10" y2="525.64" stroke="#3a3a3a" stroke-width="0.9"/>
<text x="240.20" y="529.74" font-size="12" text-anchor="middle">0.2</text>
<line x1="255.30" y1="508.97" x2="257.10" y2="508.97" stroke="#3a3a3a" stroke-width="0.9"/>
<text x="240.20" y="513.07" font-size="12" text-anchor="middle">0.25</text>
<line x1="255.30" y1="492.31" x2="257.10" y2="492.31" stroke="#3a3a3a" stroke-width="0.9"/>
<text x="240.20" y="496.41" font-size="12" text-anchor="middle">0.3</text>
<line x1="255.30" y1="475.64" x2="257.10" y2="475.64" stroke="#3a3a3a" stroke-width="0.9"/>
<text x="240.20" y="479.74" font-size="12" text-anchor="middle">0.35</text>
<line x1="255.30" y1="458.98" x2="257.10" y2="458.98" stroke="#3a3a3a" stroke-width="0.9"/>
<text x="240.20" y="463.08" font-size="12" text-anchor="middle">0.4</text>
<line x1="255.30" y1="442.31" x2="257.10" y2="442.31" stroke="#3a3a3a" stroke-width="0.9"/>
<text x="240.20" y="446.41" font-size="12" text-anchor="middle">0.45</text>
<line x1="270.40" y1="592.30" x2="270.40" y2="590.70" stroke="#3a3a3a" stroke-width="0.9"/>
<line x1="285.50" y1="592.30" x2="285.50" y2="590.70" stroke="#3a3a3a" stroke-width="0.9"/>
<line x1="300.60" y1="592.30" x2="300.60" y2="590.70" stroke="#3a3a3a" stroke-width="0.9"/>
<line x1="315.70" y1="592.30" x2="315.70" y2="590.70" stroke="#3a3a3a" stroke-width="0.9"/>
<line x1="330.80" y1="592.30" x2="330.80" y2="590.70" stroke="#3a3a3a" stroke-width="0.9"/>
<line x1="345.90" y1="592.30" x2="345.90" y2="590.70" stroke="#3a3a3a" stroke-width="0.9"/>
<line x1="361.00" y1="592.30" x2="361.00" y2="590.70" stroke="#3a3a3a" stroke-width="0.9"/>
<line x1="376.10" y1="592.30" x2="376.10" y2="590.70" stroke="#3a3a3a" stroke-width="0.9"/>
<line x1="391.20" y1="592.30" x2="391.20" y2="590.70" stroke="#3a3a3a" stroke-width="0.9"/>
<line x1="406.30" y1="592.30" x2="406.30" y2="590.70" stroke="#3a3a3a" stroke-width="0.9"/>
<text x="268.70" y="602.60" font-size="11.2" text-anchor="middle">0.1</text>
<text x="299.00" y="602.60" font-size="11.2" text-anchor="middle">0.3</text>
<text x="329.40" y="602.60" font-size="11.2" text-anchor="middle">0.5</text>
<text x="359.80" y="602.60" font-size="11.2" text-anchor="middle">0.7</text>
<text x="389.00" y="602.60" font-size="11.2" text-anchor="middle">0.9</text>
<text x="328.90" y="615.20" font-size="13.2" text-anchor="middle" textLength="143.7" lengthAdjust="spacingAndGlyphs">Behavioral performance</text>
<text x="226.90" y="507.50" font-size="13.2" text-anchor="middle" textLength="61.0" lengthAdjust="spacingAndGlyphs" transform="rotate(-90 226.90 507.50)">Proportion</text>
<line x1="265.20" y1="442.80" x2="282.70" y2="442.80" stroke="#EBA15A" stroke-width="2.6"/>
<line x1="265.20" y1="452.70" x2="282.70" y2="452.70" stroke="#5D8E43" stroke-width="2.6"/>
<text x="284.00" y="446.22" font-size="9.5" textLength="32.3" lengthAdjust="spacingAndGlyphs">S1 task</text>
<text x="284.00" y="456.12" font-size="9.5" textLength="32.3" lengthAdjust="spacingAndGlyphs">C1 task</text>
<text x="427.00" y="419.30" font-size="14.5" font-weight="bold" fill="#111">f</text>
<text x="441.30" y="416.40" font-size="10.7" textLength="190.7" lengthAdjust="spacingAndGlyphs">Average performance of LAST 15 trials</text>
<text x="454.80" y="428.70" font-size="10.7" textLength="166.4" lengthAdjust="spacingAndGlyphs">of S1 and C1 tasks across blocks</text>
<line x1="581.80" y1="441.70" x2="581.80" y2="592.30" stroke="#C9A15A" stroke-width="1.8" stroke-dasharray="21.5 21.5" stroke-dashoffset="5.3"/>
<g opacity="0.82">
<rect x="464.65" y="591.95" width="3.10" height="0.35" fill="#E8A34C" stroke="#E0923A" stroke-width="0.5"/>
<rect x="494.85" y="589.55" width="3.10" height="2.75" fill="#E8A34C" stroke="#E0923A" stroke-width="0.5"/>
<rect x="525.05" y="583.25" width="3.10" height="9.05" fill="#E8A34C" stroke="#E0923A" stroke-width="0.5"/>
<rect x="540.15" y="586.55" width="3.10" height="5.75" fill="#E8A34C" stroke="#E0923A" stroke-width="0.5"/>
<rect x="555.25" y="563.75" width="3.10" height="28.55" fill="#E8A34C" stroke="#E0923A" stroke-width="0.5"/>
<rect x="570.35" y="557.45" width="3.10" height="34.85" fill="#E8A34C" stroke="#E0923A" stroke-width="0.5"/>
<rect x="585.45" y="455.15" width="3.10" height="137.15" fill="#E8A34C" stroke="#E0923A" stroke-width="0.5"/>
<rect x="600.55" y="512.45" width="3.10" height="79.85" fill="#E8A34C" stroke="#E0923A" stroke-width="0.5"/>
</g>
<g opacity="0.82">
<rect x="482.95" y="591.95" width="3.10" height="0.35" fill="#5F9040" stroke="#4A7A33" stroke-width="0.5"/>
<rect x="498.05" y="589.55" width="3.10" height="2.75" fill="#5F9040" stroke="#4A7A33" stroke-width="0.5"/>
<rect x="513.15" y="589.55" width="3.10" height="2.75" fill="#5F9040" stroke="#4A7A33" stroke-width="0.5"/>
<rect x="528.25" y="589.55" width="3.10" height="2.75" fill="#5F9040" stroke="#4A7A33" stroke-width="0.5"/>
<rect x="543.35" y="580.55" width="3.10" height="11.75" fill="#5F9040" stroke="#4A7A33" stroke-width="0.5"/>
<rect x="558.45" y="570.95" width="3.10" height="21.35" fill="#5F9040" stroke="#4A7A33" stroke-width="0.5"/>
<rect x="573.55" y="555.65" width="3.10" height="36.65" fill="#5F9040" stroke="#4A7A33" stroke-width="0.5"/>
<rect x="588.65" y="456.35" width="3.10" height="135.95" fill="#5F9040" stroke="#4A7A33" stroke-width="0.5"/>
<rect x="603.75" y="509.15" width="3.10" height="83.15" fill="#5F9040" stroke="#4A7A33" stroke-width="0.5"/>
</g>
<line x1="460.50" y1="441.70" x2="460.50" y2="592.30" stroke="#3a3a3a" stroke-width="1"/>
<line x1="460.50" y1="592.30" x2="611.00" y2="592.30" stroke="#3a3a3a" stroke-width="1"/>
<line x1="460.50" y1="592.30" x2="462.30" y2="592.30" stroke="#3a3a3a" stroke-width="0.9"/>
<text x="443.20" y="596.40" font-size="12" text-anchor="middle">0</text>
<line x1="460.50" y1="577.30" x2="462.30" y2="577.30" stroke="#3a3a3a" stroke-width="0.9"/>
<text x="446.00" y="581.40" font-size="12" text-anchor="middle">0.05</text>
<line x1="460.50" y1="562.30" x2="462.30" y2="562.30" stroke="#3a3a3a" stroke-width="0.9"/>
<text x="446.00" y="566.40" font-size="12" text-anchor="middle">0.1</text>
<line x1="460.50" y1="547.30" x2="462.30" y2="547.30" stroke="#3a3a3a" stroke-width="0.9"/>
<text x="446.00" y="551.40" font-size="12" text-anchor="middle">0.15</text>
<line x1="460.50" y1="532.30" x2="462.30" y2="532.30" stroke="#3a3a3a" stroke-width="0.9"/>
<text x="446.00" y="536.40" font-size="12" text-anchor="middle">0.2</text>
<line x1="460.50" y1="517.30" x2="462.30" y2="517.30" stroke="#3a3a3a" stroke-width="0.9"/>
<text x="446.00" y="521.40" font-size="12" text-anchor="middle">0.25</text>
<line x1="460.50" y1="502.30" x2="462.30" y2="502.30" stroke="#3a3a3a" stroke-width="0.9"/>
<text x="446.00" y="506.40" font-size="12" text-anchor="middle">0.3</text>
<line x1="460.50" y1="487.30" x2="462.30" y2="487.30" stroke="#3a3a3a" stroke-width="0.9"/>
<text x="446.00" y="491.40" font-size="12" text-anchor="middle">0.35</text>
<line x1="460.50" y1="472.30" x2="462.30" y2="472.30" stroke="#3a3a3a" stroke-width="0.9"/>
<text x="446.00" y="476.40" font-size="12" text-anchor="middle">0.4</text>
<line x1="460.50" y1="457.30" x2="462.30" y2="457.30" stroke="#3a3a3a" stroke-width="0.9"/>
<text x="446.00" y="461.40" font-size="12" text-anchor="middle">0.45</text>
<line x1="460.50" y1="442.30" x2="462.30" y2="442.30" stroke="#3a3a3a" stroke-width="0.9"/>
<text x="446.00" y="446.40" font-size="12" text-anchor="middle">0.5</text>
<line x1="475.60" y1="592.30" x2="475.60" y2="590.70" stroke="#3a3a3a" stroke-width="0.9"/>
<line x1="490.70" y1="592.30" x2="490.70" y2="590.70" stroke="#3a3a3a" stroke-width="0.9"/>
<line x1="505.80" y1="592.30" x2="505.80" y2="590.70" stroke="#3a3a3a" stroke-width="0.9"/>
<line x1="520.90" y1="592.30" x2="520.90" y2="590.70" stroke="#3a3a3a" stroke-width="0.9"/>
<line x1="536.00" y1="592.30" x2="536.00" y2="590.70" stroke="#3a3a3a" stroke-width="0.9"/>
<line x1="551.10" y1="592.30" x2="551.10" y2="590.70" stroke="#3a3a3a" stroke-width="0.9"/>
<line x1="566.20" y1="592.30" x2="566.20" y2="590.70" stroke="#3a3a3a" stroke-width="0.9"/>
<line x1="581.30" y1="592.30" x2="581.30" y2="590.70" stroke="#3a3a3a" stroke-width="0.9"/>
<line x1="596.40" y1="592.30" x2="596.40" y2="590.70" stroke="#3a3a3a" stroke-width="0.9"/>
<line x1="611.50" y1="592.30" x2="611.50" y2="590.70" stroke="#3a3a3a" stroke-width="0.9"/>
<text x="473.50" y="602.60" font-size="11.2" text-anchor="middle">0.1</text>
<text x="503.80" y="602.60" font-size="11.2" text-anchor="middle">0.3</text>
<text x="533.30" y="602.60" font-size="11.2" text-anchor="middle">0.5</text>
<text x="563.60" y="602.60" font-size="11.2" text-anchor="middle">0.7</text>
<text x="594.00" y="602.60" font-size="11.2" text-anchor="middle">0.9</text>
<text x="535.60" y="613.50" font-size="13.2" text-anchor="middle" textLength="143.4" lengthAdjust="spacingAndGlyphs">Behavioral performance</text>
<text x="428.10" y="506.70" font-size="13.2" text-anchor="middle" textLength="61.0" lengthAdjust="spacingAndGlyphs" transform="rotate(-90 428.10 506.70)">Proportion</text>
<line x1="478.80" y1="439.50" x2="496.30" y2="439.50" stroke="#EBA15A" stroke-width="2.6"/>
<line x1="478.80" y1="449.20" x2="496.30" y2="449.20" stroke="#5D8E43" stroke-width="2.6"/>
<text x="497.60" y="442.92" font-size="9.5" textLength="32.3" lengthAdjust="spacingAndGlyphs">S1 task</text>
<text x="497.60" y="452.62" font-size="9.5" textLength="32.3" lengthAdjust="spacingAndGlyphs">C1 task</text>
<text x="3.20" y="638.80" font-size="14.5" font-weight="bold" fill="#111">g</text>
<text x="24.80" y="637.80" font-size="11.1" textLength="146.0" lengthAdjust="spacingAndGlyphs">Proportion of response on the</text>
<text x="97.20" y="650.60" font-size="11.1" text-anchor="middle" textLength="69.0" lengthAdjust="spacingAndGlyphs">incorrect axis</text>
<rect x="63.07" y="666.57" width="1.35" height="98.93" fill="#EBAA5E"/>
<rect x="63.87" y="754.98" width="1.40" height="10.53" fill="#4A82BE"/>
<rect x="64.42" y="662.36" width="1.35" height="103.14" fill="#77A05A"/>
<rect x="66.38" y="719.82" width="1.35" height="45.68" fill="#EBAA5E"/>
<rect x="67.18" y="754.98" width="1.40" height="10.53" fill="#4A82BE"/>
<rect x="67.73" y="718.77" width="1.35" height="46.73" fill="#77A05A"/>
<rect x="69.69" y="747.19" width="1.35" height="18.31" fill="#EBAA5E"/>
<rect x="70.49" y="753.92" width="1.40" height="11.58" fill="#4A82BE"/>
<rect x="71.04" y="749.92" width="1.35" height="15.58" fill="#77A05A"/>
<rect x="73.00" y="756.03" width="1.35" height="9.47" fill="#EBAA5E"/>
<rect x="73.80" y="753.08" width="1.40" height="12.42" fill="#4A82BE"/>
<rect x="74.15" y="757.08" width="1.00" height="8.42" fill="#77A05A"/>
<rect x="76.31" y="759.18" width="1.35" height="6.31" fill="#EBAA5E"/>
<rect x="77.11" y="753.08" width="1.40" height="12.42" fill="#4A82BE"/>
<rect x="77.46" y="758.76" width="1.00" height="6.74" fill="#77A05A"/>
<rect x="79.62" y="760.24" width="1.35" height="5.26" fill="#EBAA5E"/>
<rect x="80.42" y="752.24" width="1.40" height="13.26" fill="#4A82BE"/>
<rect x="80.77" y="759.18" width="1.00" height="6.31" fill="#77A05A"/>
<rect x="82.93" y="760.87" width="1.35" height="4.63" fill="#EBAA5E"/>
<rect x="83.73" y="753.08" width="1.40" height="12.42" fill="#4A82BE"/>
<rect x="84.08" y="759.61" width="1.00" height="5.89" fill="#77A05A"/>
<rect x="86.24" y="761.29" width="1.35" height="4.21" fill="#EBAA5E"/>
<rect x="87.04" y="754.13" width="1.40" height="11.37" fill="#4A82BE"/>
<rect x="87.39" y="760.03" width="1.00" height="5.47" fill="#77A05A"/>
<rect x="89.55" y="761.29" width="1.35" height="4.21" fill="#EBAA5E"/>
<rect x="90.35" y="754.76" width="1.40" height="10.74" fill="#4A82BE"/>
<rect x="90.70" y="760.24" width="1.00" height="5.26" fill="#77A05A"/>
<rect x="92.86" y="761.71" width="1.35" height="3.79" fill="#EBAA5E"/>
<rect x="93.66" y="754.13" width="1.40" height="11.37" fill="#4A82BE"/>
<rect x="94.01" y="760.45" width="1.00" height="5.05" fill="#77A05A"/>
<rect x="96.17" y="761.71" width="1.35" height="3.79" fill="#EBAA5E"/>
<rect x="96.97" y="755.82" width="1.40" height="9.68" fill="#4A82BE"/>
<rect x="97.32" y="760.87" width="1.00" height="4.63" fill="#77A05A"/>
<rect x="99.48" y="762.34" width="1.35" height="3.16" fill="#EBAA5E"/>
<rect x="100.28" y="757.08" width="1.40" height="8.42" fill="#4A82BE"/>
<rect x="100.63" y="761.29" width="1.00" height="4.21" fill="#77A05A"/>
<rect x="102.79" y="762.34" width="1.35" height="3.16" fill="#EBAA5E"/>
<rect x="103.59" y="755.82" width="1.40" height="9.68" fill="#4A82BE"/>
<rect x="103.94" y="761.29" width="1.00" height="4.21" fill="#77A05A"/>
<rect x="106.10" y="762.97" width="1.35" height="2.53" fill="#EBAA5E"/>
<rect x="106.90" y="757.08" width="1.40" height="8.42" fill="#4A82BE"/>
<rect x="107.25" y="761.71" width="1.00" height="3.79" fill="#77A05A"/>
<rect x="109.41" y="762.97" width="1.35" height="2.53" fill="#EBAA5E"/>
<rect x="110.21" y="756.45" width="1.40" height="9.05" fill="#4A82BE"/>
<rect x="110.56" y="762.13" width="1.00" height="3.37" fill="#77A05A"/>
<rect x="112.72" y="763.39" width="1.35" height="2.10" fill="#EBAA5E"/>
<rect x="113.52" y="757.08" width="1.40" height="8.42" fill="#4A82BE"/>
<rect x="113.87" y="762.55" width="1.00" height="2.95" fill="#77A05A"/>
<rect x="116.03" y="763.39" width="1.35" height="2.10" fill="#EBAA5E"/>
<rect x="116.83" y="756.45" width="1.40" height="9.05" fill="#4A82BE"/>
<rect x="117.18" y="762.97" width="1.00" height="2.53" fill="#77A05A"/>
<rect x="119.34" y="763.82" width="1.35" height="1.68" fill="#EBAA5E"/>
<rect x="120.14" y="760.24" width="1.40" height="5.26" fill="#4A82BE"/>
<rect x="120.49" y="763.39" width="1.00" height="2.10" fill="#77A05A"/>
<rect x="122.65" y="763.82" width="1.35" height="1.68" fill="#EBAA5E"/>
<rect x="123.45" y="759.61" width="1.40" height="5.89" fill="#4A82BE"/>
<rect x="123.80" y="763.39" width="1.00" height="2.10" fill="#77A05A"/>
<rect x="125.96" y="763.82" width="1.35" height="1.68" fill="#EBAA5E"/>
<rect x="126.76" y="760.66" width="1.40" height="4.84" fill="#4A82BE"/>
<rect x="127.11" y="763.61" width="1.00" height="1.89" fill="#77A05A"/>
<rect x="129.27" y="764.24" width="1.35" height="1.26" fill="#EBAA5E"/>
<rect x="130.07" y="761.92" width="1.40" height="3.58" fill="#4A82BE"/>
<rect x="130.42" y="763.82" width="1.00" height="1.68" fill="#77A05A"/>
<rect x="132.58" y="764.24" width="1.35" height="1.26" fill="#EBAA5E"/>
<rect x="133.38" y="760.66" width="1.40" height="4.84" fill="#4A82BE"/>
<rect x="133.73" y="763.82" width="1.00" height="1.68" fill="#77A05A"/>
<rect x="135.89" y="764.24" width="1.35" height="1.26" fill="#EBAA5E"/>
<rect x="136.69" y="761.92" width="1.40" height="3.58" fill="#4A82BE"/>
<rect x="137.04" y="764.03" width="1.00" height="1.47" fill="#77A05A"/>
<rect x="139.20" y="764.45" width="1.35" height="1.05" fill="#EBAA5E"/>
<rect x="140.00" y="761.92" width="1.40" height="3.58" fill="#4A82BE"/>
<rect x="140.35" y="764.03" width="1.00" height="1.47" fill="#77A05A"/>
<rect x="142.51" y="764.45" width="1.35" height="1.05" fill="#EBAA5E"/>
<rect x="143.31" y="760.24" width="1.40" height="5.26" fill="#4A82BE"/>
<rect x="143.66" y="764.24" width="1.00" height="1.26" fill="#77A05A"/>
<rect x="145.82" y="764.45" width="1.35" height="1.05" fill="#EBAA5E"/>
<rect x="146.62" y="761.92" width="1.40" height="3.58" fill="#4A82BE"/>
<rect x="146.97" y="764.24" width="1.00" height="1.26" fill="#77A05A"/>
<rect x="149.13" y="764.45" width="1.35" height="1.05" fill="#EBAA5E"/>
<rect x="149.93" y="762.76" width="1.40" height="2.74" fill="#4A82BE"/>
<rect x="150.28" y="764.24" width="1.00" height="1.26" fill="#77A05A"/>
<rect x="152.44" y="764.45" width="1.35" height="1.05" fill="#EBAA5E"/>
<rect x="153.24" y="760.24" width="1.40" height="5.26" fill="#4A82BE"/>
<rect x="153.59" y="764.24" width="1.00" height="1.26" fill="#77A05A"/>
<rect x="155.75" y="764.45" width="1.35" height="1.05" fill="#EBAA5E"/>
<rect x="156.55" y="758.76" width="1.40" height="6.74" fill="#4A82BE"/>
<rect x="156.90" y="764.24" width="1.00" height="1.26" fill="#77A05A"/>
<line x1="53.30" y1="649.60" x2="53.30" y2="765.50" stroke="#3a3a3a" stroke-width="1"/>
<line x1="53.30" y1="765.50" x2="168.50" y2="765.50" stroke="#3a3a3a" stroke-width="1"/>
<line x1="53.30" y1="765.50" x2="55.10" y2="765.50" stroke="#3a3a3a" stroke-width="0.9"/>
<text x="49.40" y="769.80" font-size="11.3" text-anchor="end">0</text>
<line x1="53.30" y1="723.40" x2="55.10" y2="723.40" stroke="#3a3a3a" stroke-width="0.9"/>
<text x="50.10" y="727.70" font-size="11.3" text-anchor="end">0.2</text>
<line x1="53.30" y1="681.30" x2="55.10" y2="681.30" stroke="#3a3a3a" stroke-width="0.9"/>
<text x="50.10" y="685.60" font-size="11.3" text-anchor="end">0.4</text>
<line x1="57.90" y1="765.50" x2="57.90" y2="763.80" stroke="#3a3a3a" stroke-width="0.9"/>
<line x1="91.00" y1="765.50" x2="91.00" y2="763.80" stroke="#3a3a3a" stroke-width="0.9"/>
<line x1="124.10" y1="765.50" x2="124.10" y2="763.80" stroke="#3a3a3a" stroke-width="0.9"/>
<line x1="157.20" y1="765.50" x2="157.20" y2="763.80" stroke="#3a3a3a" stroke-width="0.9"/>
<text x="57.30" y="775.60" font-size="12.2" text-anchor="middle">0</text>
<text x="90.60" y="775.60" font-size="12.2" text-anchor="middle">10</text>
<text x="124.10" y="775.60" font-size="12.2" text-anchor="middle">20</text>
<text x="157.60" y="775.60" font-size="12.2" text-anchor="middle">30</text>
<text x="114.20" y="785.60" font-size="13.5" text-anchor="middle" textLength="103.5" lengthAdjust="spacingAndGlyphs">Trials from switch</text>
<text x="30.10" y="704.90" font-size="13.3" text-anchor="middle" textLength="61.6" lengthAdjust="spacingAndGlyphs" transform="rotate(-90 30.10 704.90)">Proportion</text>
<line x1="94.30" y1="673.60" x2="111.80" y2="673.60" stroke="#4A82BE" stroke-width="2.6"/>
<text x="113.20" y="674.90" font-size="9.4" textLength="34.7" lengthAdjust="spacingAndGlyphs">C2 Task</text>
<line x1="94.30" y1="680.60" x2="111.80" y2="680.60" stroke="#EBA15A" stroke-width="2.6"/>
<text x="113.20" y="682.50" font-size="9.4" textLength="34.7" lengthAdjust="spacingAndGlyphs">S1 Task</text>
<line x1="94.30" y1="688.10" x2="111.80" y2="688.10" stroke="#5D8E43" stroke-width="2.6"/>
<text x="113.20" y="691.30" font-size="9.4" textLength="34.7" lengthAdjust="spacingAndGlyphs">C1 Task</text>
<text x="177.40" y="636.50" font-size="14.5" font-weight="bold" fill="#111">h</text>
<text x="200.70" y="635.80" font-size="10.3" textLength="135.1" lengthAdjust="spacingAndGlyphs">Proportion of response on the</text>
<text x="204.50" y="648.00" font-size="10.3" textLength="129.0" lengthAdjust="spacingAndGlyphs">incorrect axis during S1 task</text>
<rect x="208.70" y="662.85" width="2.00" height="103.25" fill="#EBAA5E"/>
<rect x="209.50" y="673.18" width="2.00" height="92.92" fill="#77A05A"/>
<rect x="212.53" y="711.17" width="2.00" height="54.93" fill="#EBAA5E"/>
<rect x="213.33" y="728.31" width="2.00" height="37.79" fill="#77A05A"/>
<rect x="216.36" y="743.38" width="2.00" height="22.71" fill="#EBAA5E"/>
<rect x="217.16" y="750.41" width="2.00" height="15.69" fill="#77A05A"/>
<rect x="220.19" y="761.14" width="2.00" height="4.96" fill="#EBAA5E"/>
<rect x="220.99" y="757.22" width="2.00" height="8.88" fill="#77A05A"/>
<rect x="224.02" y="762.80" width="2.00" height="3.30" fill="#EBAA5E"/>
<rect x="224.82" y="763.42" width="2.00" height="2.68" fill="#77A05A"/>
<rect x="227.85" y="764.03" width="2.00" height="2.06" fill="#EBAA5E"/>
<rect x="228.65" y="761.56" width="2.00" height="4.54" fill="#77A05A"/>
<rect x="231.68" y="759.70" width="2.00" height="6.40" fill="#EBAA5E"/>
<rect x="236.31" y="764.03" width="2.00" height="2.06" fill="#77A05A"/>
<rect x="240.14" y="759.49" width="2.00" height="6.61" fill="#77A05A"/>
<rect x="243.97" y="764.03" width="2.00" height="2.06" fill="#77A05A"/>
<rect x="247.00" y="765.07" width="2.00" height="1.03" fill="#EBAA5E"/>
<rect x="247.80" y="761.76" width="2.00" height="4.34" fill="#77A05A"/>
<rect x="250.83" y="761.56" width="2.00" height="4.54" fill="#EBAA5E"/>
<rect x="251.63" y="761.97" width="2.00" height="4.13" fill="#77A05A"/>
<rect x="254.66" y="763.00" width="2.00" height="3.10" fill="#EBAA5E"/>
<rect x="255.46" y="764.03" width="2.00" height="2.06" fill="#77A05A"/>
<rect x="258.49" y="762.80" width="2.00" height="3.30" fill="#EBAA5E"/>
<rect x="259.29" y="763.62" width="2.00" height="2.48" fill="#77A05A"/>
<rect x="262.32" y="764.03" width="2.00" height="2.06" fill="#EBAA5E"/>
<rect x="263.12" y="764.03" width="2.00" height="2.06" fill="#77A05A"/>
<rect x="266.95" y="765.07" width="2.00" height="1.03" fill="#77A05A"/>
<rect x="282.27" y="764.03" width="2.00" height="2.06" fill="#77A05A"/>
<rect x="286.10" y="764.03" width="2.00" height="2.06" fill="#77A05A"/>
<rect x="297.59" y="763.00" width="2.00" height="3.10" fill="#77A05A"/>
<rect x="300.62" y="765.07" width="2.00" height="1.03" fill="#EBAA5E"/>
<rect x="301.42" y="761.97" width="2.00" height="4.13" fill="#77A05A"/>
<rect x="305.25" y="764.03" width="2.00" height="2.06" fill="#77A05A"/>
<rect x="308.28" y="765.07" width="2.00" height="1.03" fill="#EBAA5E"/>
<rect x="309.08" y="763.00" width="2.00" height="3.10" fill="#77A05A"/>
<rect x="316.74" y="763.62" width="2.00" height="2.48" fill="#77A05A"/>
<rect x="319.77" y="765.07" width="2.00" height="1.03" fill="#EBAA5E"/>
<rect x="320.57" y="761.56" width="2.00" height="4.54" fill="#77A05A"/>
<line x1="206.40" y1="652.60" x2="206.40" y2="766.10" stroke="#3a3a3a" stroke-width="1"/>
<line x1="206.40" y1="766.10" x2="320.40" y2="766.10" stroke="#3a3a3a" stroke-width="1"/>
<line x1="206.40" y1="766.10" x2="208.20" y2="766.10" stroke="#3a3a3a" stroke-width="0.9"/>
<text x="202.80" y="769.70" font-size="11.2" text-anchor="end">0</text>
<line x1="206.40" y1="745.45" x2="208.20" y2="745.45" stroke="#3a3a3a" stroke-width="0.9"/>
<text x="202.80" y="750.05" font-size="11.2" text-anchor="end">0.1</text>
<line x1="206.40" y1="724.80" x2="208.20" y2="724.80" stroke="#3a3a3a" stroke-width="0.9"/>
<text x="202.80" y="729.40" font-size="11.2" text-anchor="end">0.2</text>
<line x1="206.40" y1="704.15" x2="208.20" y2="704.15" stroke="#3a3a3a" stroke-width="0.9"/>
<text x="202.80" y="708.75" font-size="11.2" text-anchor="end">0.3</text>
<line x1="206.40" y1="683.50" x2="208.20" y2="683.50" stroke="#3a3a3a" stroke-width="0.9"/>
<text x="202.80" y="688.10" font-size="11.2" text-anchor="end">0.4</text>
<line x1="206.40" y1="662.85" x2="208.20" y2="662.85" stroke="#3a3a3a" stroke-width="0.9"/>
<text x="202.80" y="667.45" font-size="11.2" text-anchor="end">0.5</text>
<text x="222.20" y="775.50" font-size="12.2" text-anchor="middle">5</text>
<text x="241.40" y="775.50" font-size="12.2" text-anchor="middle">10</text>
<text x="260.30" y="775.50" font-size="12.2" text-anchor="middle">15</text>
<text x="279.20" y="775.50" font-size="12.2" text-anchor="middle">20</text>
<text x="298.10" y="775.50" font-size="12.2" text-anchor="middle">25</text>
<text x="317.00" y="775.50" font-size="12.2" text-anchor="middle">30</text>
<text x="265.70" y="785.60" font-size="13.5" text-anchor="middle" textLength="102.4" lengthAdjust="spacingAndGlyphs">Trials from switch</text>
<text x="181.20" y="704.80" font-size="13.3" text-anchor="middle" textLength="61.2" lengthAdjust="spacingAndGlyphs" transform="rotate(-90 181.20 704.80)">Proportion</text>
<line x1="215.30" y1="693.40" x2="232.80" y2="693.40" stroke="#EBA15A" stroke-width="2.6"/>
<line x1="215.30" y1="702.20" x2="232.80" y2="702.20" stroke="#5D8E43" stroke-width="2.6"/>
<text x="234.10" y="696.86" font-size="9.6" textLength="90.8" lengthAdjust="spacingAndGlyphs">S1-C2-S1 Sequence</text>
<text x="234.10" y="705.66" font-size="9.6" textLength="90.8" lengthAdjust="spacingAndGlyphs">C1-C2-S1 Sequence</text>
<text x="348.40" y="636.30" font-size="10.3" textLength="135.3" lengthAdjust="spacingAndGlyphs">Proportion of response on the</text>
<text x="352.30" y="648.40" font-size="10.3" textLength="130.1" lengthAdjust="spacingAndGlyphs">incorrect axis during C2 task</text>
<rect x="366.20" y="757.84" width="2.00" height="8.26" fill="#EBAA5E"/>
<rect x="367.30" y="754.12" width="2.00" height="11.98" fill="#77A05A"/>
<rect x="370.03" y="757.84" width="2.00" height="8.26" fill="#EBAA5E"/>
<rect x="371.13" y="754.12" width="2.00" height="11.98" fill="#77A05A"/>
<rect x="373.86" y="757.84" width="2.00" height="8.26" fill="#EBAA5E"/>
<rect x="374.96" y="746.28" width="2.00" height="19.82" fill="#77A05A"/>
<rect x="377.69" y="754.74" width="2.00" height="11.36" fill="#EBAA5E"/>
<rect x="378.79" y="752.26" width="2.00" height="13.84" fill="#77A05A"/>
<rect x="381.52" y="753.71" width="2.00" height="12.39" fill="#EBAA5E"/>
<rect x="382.62" y="753.71" width="2.00" height="12.39" fill="#77A05A"/>
<rect x="385.35" y="754.74" width="2.00" height="11.36" fill="#EBAA5E"/>
<rect x="386.45" y="752.26" width="2.00" height="13.84" fill="#77A05A"/>
<rect x="389.18" y="754.74" width="2.00" height="11.36" fill="#EBAA5E"/>
<rect x="390.28" y="752.26" width="2.00" height="13.84" fill="#77A05A"/>
<rect x="393.01" y="755.77" width="2.00" height="10.33" fill="#EBAA5E"/>
<rect x="394.11" y="754.12" width="2.00" height="11.98" fill="#77A05A"/>
<rect x="396.84" y="755.77" width="2.00" height="10.33" fill="#EBAA5E"/>
<rect x="397.94" y="754.12" width="2.00" height="11.98" fill="#77A05A"/>
<rect x="400.67" y="755.77" width="2.00" height="10.33" fill="#EBAA5E"/>
<rect x="401.77" y="752.26" width="2.00" height="13.84" fill="#77A05A"/>
<rect x="404.50" y="756.81" width="2.00" height="9.29" fill="#EBAA5E"/>
<rect x="405.60" y="755.98" width="2.00" height="10.12" fill="#77A05A"/>
<rect x="408.33" y="756.81" width="2.00" height="9.29" fill="#EBAA5E"/>
<rect x="409.43" y="755.98" width="2.00" height="10.12" fill="#77A05A"/>
<rect x="412.16" y="756.81" width="2.00" height="9.29" fill="#EBAA5E"/>
<rect x="413.26" y="755.98" width="2.00" height="10.12" fill="#77A05A"/>
<rect x="415.99" y="757.84" width="2.00" height="8.26" fill="#EBAA5E"/>
<rect x="417.09" y="755.98" width="2.00" height="10.12" fill="#77A05A"/>
<rect x="419.82" y="757.84" width="2.00" height="8.26" fill="#EBAA5E"/>
<rect x="420.92" y="755.98" width="2.00" height="10.12" fill="#77A05A"/>
<rect x="423.65" y="760.94" width="2.00" height="5.16" fill="#EBAA5E"/>
<rect x="424.75" y="759.90" width="2.00" height="6.19" fill="#77A05A"/>
<rect x="427.48" y="760.94" width="2.00" height="5.16" fill="#EBAA5E"/>
<rect x="428.58" y="759.90" width="2.00" height="6.19" fill="#77A05A"/>
<rect x="431.31" y="761.97" width="2.00" height="4.13" fill="#EBAA5E"/>
<rect x="432.41" y="761.56" width="2.00" height="4.54" fill="#77A05A"/>
<rect x="435.14" y="761.97" width="2.00" height="4.13" fill="#EBAA5E"/>
<rect x="436.24" y="763.00" width="2.00" height="3.10" fill="#77A05A"/>
<rect x="438.97" y="760.94" width="2.00" height="5.16" fill="#EBAA5E"/>
<rect x="440.07" y="765.07" width="2.00" height="1.03" fill="#77A05A"/>
<rect x="442.80" y="760.94" width="2.00" height="5.16" fill="#EBAA5E"/>
<rect x="443.90" y="765.27" width="2.00" height="0.83" fill="#77A05A"/>
<rect x="446.63" y="760.94" width="2.00" height="5.16" fill="#EBAA5E"/>
<rect x="447.73" y="765.27" width="2.00" height="0.83" fill="#77A05A"/>
<rect x="450.46" y="759.90" width="2.00" height="6.19" fill="#EBAA5E"/>
<rect x="451.56" y="765.27" width="2.00" height="0.83" fill="#77A05A"/>
<rect x="454.29" y="763.00" width="2.00" height="3.10" fill="#EBAA5E"/>
<rect x="455.39" y="765.48" width="2.00" height="0.62" fill="#77A05A"/>
<rect x="458.12" y="763.00" width="2.00" height="3.10" fill="#EBAA5E"/>
<rect x="459.22" y="765.48" width="2.00" height="0.62" fill="#77A05A"/>
<rect x="461.95" y="760.94" width="2.00" height="5.16" fill="#EBAA5E"/>
<rect x="463.05" y="765.48" width="2.00" height="0.62" fill="#77A05A"/>
<rect x="465.78" y="760.94" width="2.00" height="5.16" fill="#EBAA5E"/>
<rect x="466.88" y="765.27" width="2.00" height="0.83" fill="#77A05A"/>
<rect x="469.61" y="760.94" width="2.00" height="5.16" fill="#EBAA5E"/>
<rect x="470.71" y="765.48" width="2.00" height="0.62" fill="#77A05A"/>
<rect x="473.44" y="757.84" width="2.00" height="8.26" fill="#EBAA5E"/>
<rect x="474.54" y="765.48" width="2.00" height="0.62" fill="#77A05A"/>
<rect x="478.37" y="765.48" width="2.00" height="0.62" fill="#77A05A"/>
<line x1="364.10" y1="652.60" x2="364.10" y2="766.10" stroke="#3a3a3a" stroke-width="1"/>
<line x1="364.10" y1="766.10" x2="477.80" y2="766.10" stroke="#3a3a3a" stroke-width="1"/>
<line x1="364.10" y1="766.10" x2="365.90" y2="766.10" stroke="#3a3a3a" stroke-width="0.9"/>
<text x="353.60" y="769.70" font-size="11.2" text-anchor="middle">0</text>
<line x1="364.10" y1="745.45" x2="365.90" y2="745.45" stroke="#3a3a3a" stroke-width="0.9"/>
<text x="353.60" y="750.05" font-size="11.2" text-anchor="middle">0.1</text>
<line x1="364.10" y1="724.80" x2="365.90" y2="724.80" stroke="#3a3a3a" stroke-width="0.9"/>
<text x="353.60" y="729.40" font-size="11.2" text-anchor="middle">0.2</text>
<line x1="364.10" y1="704.15" x2="365.90" y2="704.15" stroke="#3a3a3a" stroke-width="0.9"/>
<text x="353.60" y="708.75" font-size="11.2" text-anchor="middle">0.3</text>
<line x1="364.10" y1="683.50" x2="365.90" y2="683.50" stroke="#3a3a3a" stroke-width="0.9"/>
<text x="353.60" y="688.10" font-size="11.2" text-anchor="middle">0.4</text>
<line x1="364.10" y1="662.85" x2="365.90" y2="662.85" stroke="#3a3a3a" stroke-width="0.9"/>
<text x="353.60" y="667.45" font-size="11.2" text-anchor="middle">0.5</text>
<text x="379.20" y="775.50" font-size="12.2" text-anchor="middle">5</text>
<text x="398.90" y="775.50" font-size="12.2" text-anchor="middle">10</text>
<text x="418.00" y="775.50" font-size="12.2" text-anchor="middle">15</text>
<text x="437.10" y="775.50" font-size="12.2" text-anchor="middle">20</text>
<text x="456.20" y="775.50" font-size="12.2" text-anchor="middle">25</text>
<text x="475.30" y="775.50" font-size="12.2" text-anchor="middle">30</text>
<text x="429.80" y="785.60" font-size="13.5" text-anchor="middle" textLength="102.4" lengthAdjust="spacingAndGlyphs">Trials from switch</text>
<text x="340.50" y="704.80" font-size="13.3" text-anchor="middle" textLength="61.2" lengthAdjust="spacingAndGlyphs" transform="rotate(-90 340.50 704.80)">Proportion</text>
<line x1="373.40" y1="686.70" x2="390.90" y2="686.70" stroke="#EBA15A" stroke-width="2.6"/>
<line x1="373.40" y1="694.60" x2="390.90" y2="694.60" stroke="#5D8E43" stroke-width="2.6"/>
<text x="392.20" y="690.16" font-size="9.6" textLength="75.5" lengthAdjust="spacingAndGlyphs">S1-C2 Sequence</text>
<text x="392.20" y="698.06" font-size="9.6" textLength="75.5" lengthAdjust="spacingAndGlyphs">C1-C2 Sequence</text>
<text x="498.50" y="635.60" font-size="10.3" textLength="136.1" lengthAdjust="spacingAndGlyphs">Proportion of response on the</text>
<text x="502.80" y="648.40" font-size="10.3" textLength="129.5" lengthAdjust="spacingAndGlyphs">incorrect axis during C1 task</text>
<rect x="517.00" y="662.85" width="2.00" height="103.25" fill="#77A05A"/>
<rect x="517.90" y="665.95" width="2.00" height="100.15" fill="#EBAA5E"/>
<rect x="520.83" y="725.83" width="2.00" height="40.27" fill="#77A05A"/>
<rect x="521.73" y="717.16" width="2.00" height="48.94" fill="#EBAA5E"/>
<rect x="524.66" y="751.64" width="2.00" height="14.46" fill="#77A05A"/>
<rect x="525.56" y="750.20" width="2.00" height="15.90" fill="#EBAA5E"/>
<rect x="528.49" y="758.25" width="2.00" height="7.85" fill="#77A05A"/>
<rect x="529.39" y="760.94" width="2.00" height="5.16" fill="#EBAA5E"/>
<rect x="532.32" y="763.00" width="2.00" height="3.10" fill="#77A05A"/>
<rect x="533.22" y="759.08" width="2.00" height="7.02" fill="#EBAA5E"/>
<rect x="536.15" y="761.97" width="2.00" height="4.13" fill="#77A05A"/>
<rect x="537.05" y="761.76" width="2.00" height="4.34" fill="#EBAA5E"/>
<rect x="539.98" y="764.03" width="2.00" height="2.06" fill="#77A05A"/>
<rect x="540.88" y="761.76" width="2.00" height="4.34" fill="#EBAA5E"/>
<rect x="543.81" y="764.03" width="2.00" height="2.06" fill="#77A05A"/>
<rect x="544.71" y="763.62" width="2.00" height="2.48" fill="#EBAA5E"/>
<rect x="547.64" y="764.45" width="2.00" height="1.65" fill="#77A05A"/>
<rect x="548.54" y="765.07" width="2.00" height="1.03" fill="#EBAA5E"/>
<rect x="551.47" y="765.07" width="2.00" height="1.03" fill="#77A05A"/>
<rect x="552.37" y="761.56" width="2.00" height="4.54" fill="#EBAA5E"/>
<rect x="555.30" y="761.97" width="2.00" height="4.13" fill="#77A05A"/>
<rect x="556.20" y="760.94" width="2.00" height="5.16" fill="#EBAA5E"/>
<rect x="559.13" y="754.74" width="2.00" height="11.36" fill="#77A05A"/>
<rect x="560.03" y="765.07" width="2.00" height="1.03" fill="#EBAA5E"/>
<rect x="562.96" y="762.18" width="2.00" height="3.92" fill="#77A05A"/>
<rect x="563.86" y="765.07" width="2.00" height="1.03" fill="#EBAA5E"/>
<rect x="566.79" y="761.97" width="2.00" height="4.13" fill="#77A05A"/>
<rect x="567.69" y="764.03" width="2.00" height="2.06" fill="#EBAA5E"/>
<rect x="570.62" y="765.07" width="2.00" height="1.03" fill="#77A05A"/>
<rect x="571.52" y="765.07" width="2.00" height="1.03" fill="#EBAA5E"/>
<rect x="574.45" y="762.18" width="2.00" height="3.92" fill="#77A05A"/>
<rect x="578.28" y="758.25" width="2.00" height="7.85" fill="#77A05A"/>
<rect x="589.77" y="765.48" width="2.00" height="0.62" fill="#77A05A"/>
<rect x="590.67" y="764.45" width="2.00" height="1.65" fill="#EBAA5E"/>
<rect x="625.14" y="764.03" width="2.00" height="2.06" fill="#EBAA5E"/>
<line x1="514.80" y1="652.60" x2="514.80" y2="766.10" stroke="#3a3a3a" stroke-width="1"/>
<line x1="514.80" y1="766.10" x2="629.50" y2="766.10" stroke="#3a3a3a" stroke-width="1"/>
<line x1="514.80" y1="766.10" x2="516.60" y2="766.10" stroke="#3a3a3a" stroke-width="0.9"/>
<text x="504.50" y="769.70" font-size="11.2" text-anchor="middle">0</text>
<line x1="514.80" y1="745.45" x2="516.60" y2="745.45" stroke="#3a3a3a" stroke-width="0.9"/>
<text x="504.50" y="750.05" font-size="11.2" text-anchor="middle">0.1</text>
<line x1="514.80" y1="724.80" x2="516.60" y2="724.80" stroke="#3a3a3a" stroke-width="0.9"/>
<text x="504.50" y="729.40" font-size="11.2" text-anchor="middle">0.2</text>
<line x1="514.80" y1="704.15" x2="516.60" y2="704.15" stroke="#3a3a3a" stroke-width="0.9"/>
<text x="504.50" y="708.75" font-size="11.2" text-anchor="middle">0.3</text>
<line x1="514.80" y1="683.50" x2="516.60" y2="683.50" stroke="#3a3a3a" stroke-width="0.9"/>
<text x="504.50" y="688.10" font-size="11.2" text-anchor="middle">0.4</text>
<line x1="514.80" y1="662.85" x2="516.60" y2="662.85" stroke="#3a3a3a" stroke-width="0.9"/>
<text x="504.50" y="667.45" font-size="11.2" text-anchor="middle">0.5</text>
<text x="531.20" y="775.50" font-size="12.2" text-anchor="middle">5</text>
<text x="553.20" y="775.50" font-size="12.2" text-anchor="middle">10</text>
<text x="571.95" y="775.50" font-size="12.2" text-anchor="middle">15</text>
<text x="590.70" y="775.50" font-size="12.2" text-anchor="middle">20</text>
<text x="609.45" y="775.50" font-size="12.2" text-anchor="middle">25</text>
<text x="628.20" y="775.50" font-size="12.2" text-anchor="middle">30</text>
<text x="581.00" y="785.60" font-size="13.5" text-anchor="middle" textLength="102.4" lengthAdjust="spacingAndGlyphs">Trials from switch</text>
<text x="491.00" y="704.80" font-size="13.3" text-anchor="middle" textLength="61.2" lengthAdjust="spacingAndGlyphs" transform="rotate(-90 491.00 704.80)">Proportion</text>
<line x1="532.10" y1="680.30" x2="549.60" y2="680.30" stroke="#EBA15A" stroke-width="2.6"/>
<line x1="532.10" y1="688.80" x2="549.60" y2="688.80" stroke="#5D8E43" stroke-width="2.6"/>
<text x="550.90" y="683.76" font-size="9.6" textLength="91.6" lengthAdjust="spacingAndGlyphs">S1-C2-C1 Sequence</text>
<text x="550.90" y="692.26" font-size="9.6" textLength="91.6" lengthAdjust="spacingAndGlyphs">C1-C2-C1 Sequence</text>
</svg>
</body></html>
